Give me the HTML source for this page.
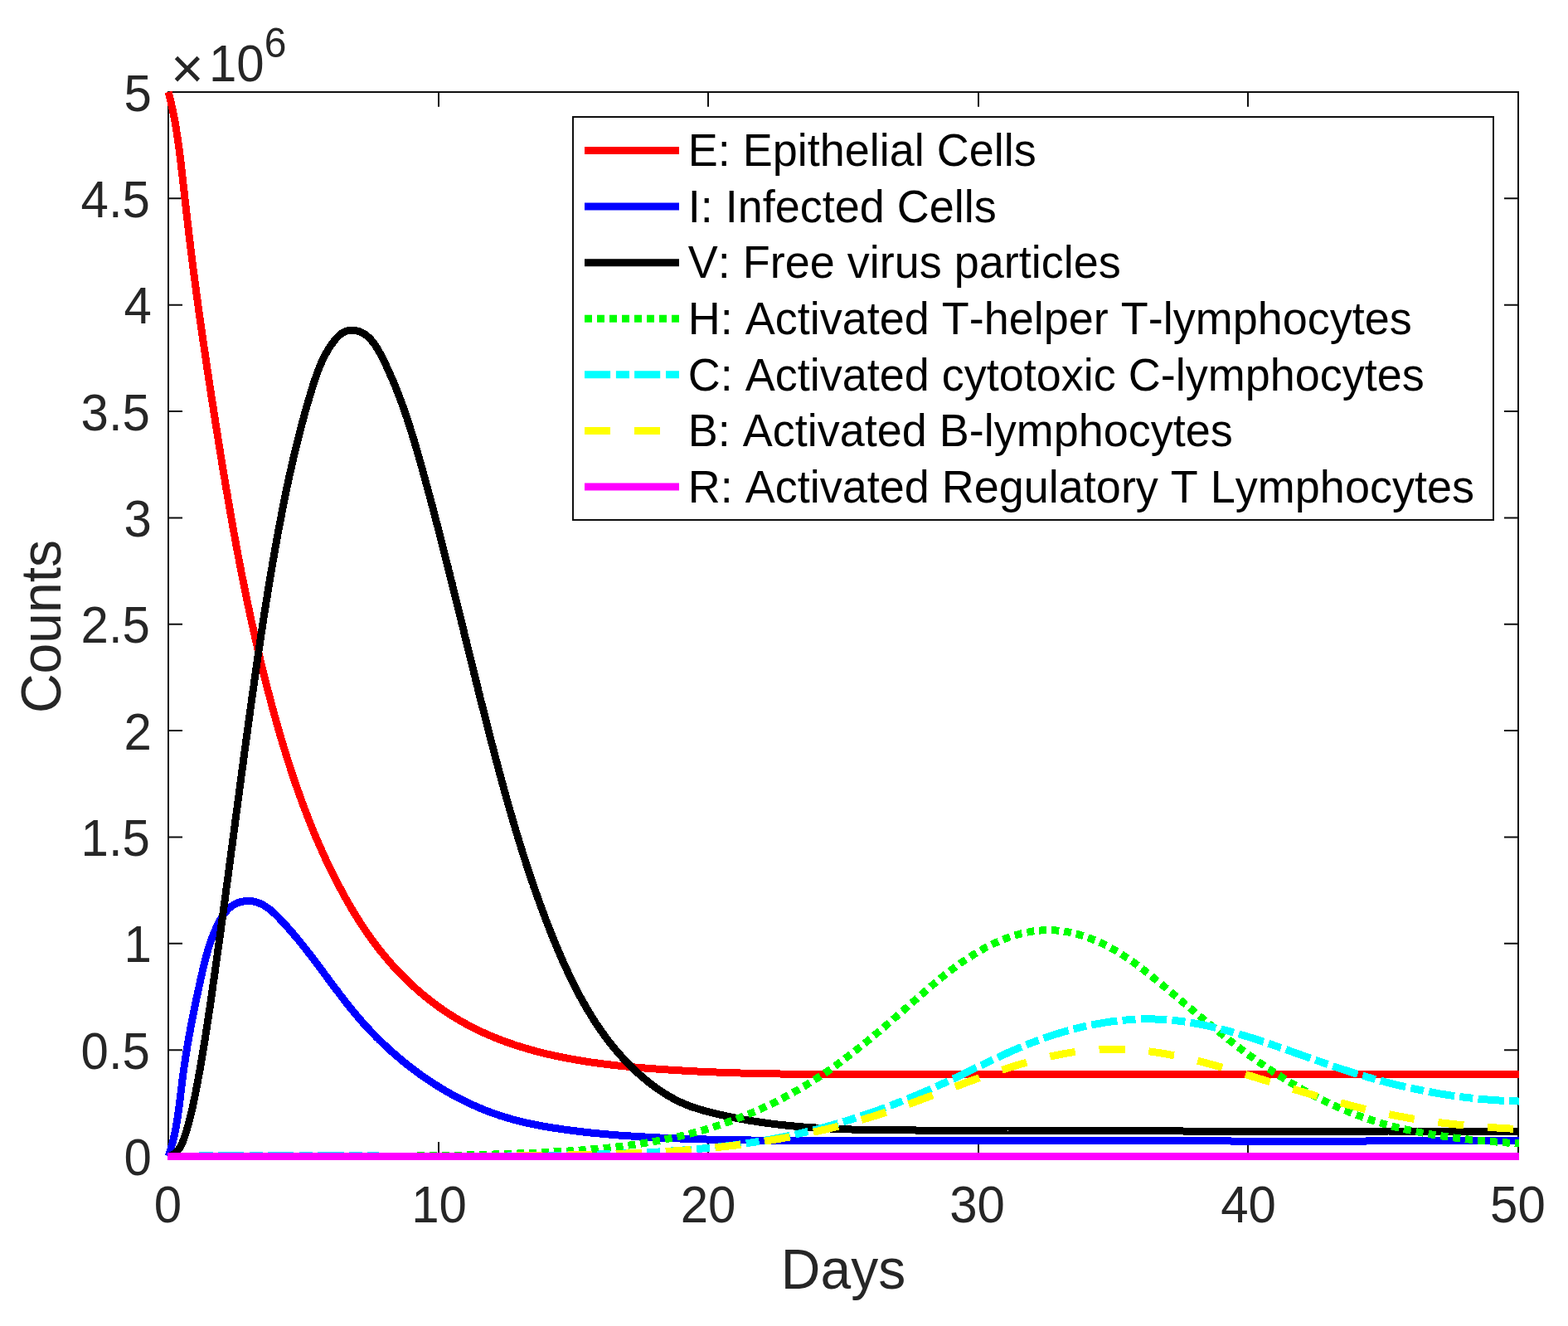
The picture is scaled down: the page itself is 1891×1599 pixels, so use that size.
<!DOCTYPE html>
<html><head><meta charset="utf-8"><title>Counts vs Days</title>
<style>html,body{margin:0;padding:0;background:#fff;width:1891px;height:1599px;overflow:hidden}
svg{display:block} text{font-family:"Liberation Sans",Arial,Helvetica,sans-serif;font-kerning:none;font-feature-settings:"kern" 0}</style></head>
<body><svg width="1891" height="1599" viewBox="0 0 1891 1599">
<rect x="0" y="0" width="1891" height="1599" fill="#fff"/>
<rect x="203.0" y="111.0" width="1628.0" height="1283.5" fill="none" stroke="#0f0f0f" stroke-width="2"/>
<path d="M203,1394.5 V1376.9 M203,111.0 V128.7 M529,1394.5 V1376.9 M529,111.0 V128.7 M854,1394.5 V1376.9 M854,111.0 V128.7 M1180,1394.5 V1376.9 M1180,111.0 V128.7 M1505,1394.5 V1376.9 M1505,111.0 V128.7 M1831,1394.5 V1376.9 M1831,111.0 V128.7 M203.0,1394.5 H220.0 M1831.0,1394.5 H1814.0 M203.0,1266.2 H220.0 M1831.0,1266.2 H1814.0 M203.0,1137.8 H220.0 M1831.0,1137.8 H1814.0 M203.0,1009.5 H220.0 M1831.0,1009.5 H1814.0 M203.0,881.1 H220.0 M1831.0,881.1 H1814.0 M203.0,752.8 H220.0 M1831.0,752.8 H1814.0 M203.0,624.4 H220.0 M1831.0,624.4 H1814.0 M203.0,496.0 H220.0 M1831.0,496.0 H1814.0 M203.0,367.7 H220.0 M1831.0,367.7 H1814.0 M203.0,239.3 H220.0 M1831.0,239.3 H1814.0 M203.0,111.0 H220.0 M1831.0,111.0 H1814.0" stroke="#0f0f0f" stroke-width="2" fill="none"/>
<path d="M203.0,111.0 L203.6,113.0 L204.1,115.0 L204.6,117.0 L205.1,119.0 L205.6,121.0 L206.1,123.0 L206.5,125.0 L207.0,127.1 L207.4,129.1 L207.9,131.1 L208.3,133.1 L208.7,135.1 L209.1,137.2 L209.5,139.2 L209.9,141.2 L210.3,143.3 L210.7,145.3 L211.1,147.3 L211.4,149.4 L211.8,151.4 L212.1,153.4 L212.5,155.5 L212.8,157.5 L213.1,159.6 L213.4,161.6 L213.7,163.7 L214.1,165.7 L214.4,167.8 L214.6,169.8 L214.9,171.9 L215.2,173.9 L215.5,176.0 L215.8,178.1 L216.1,180.1 L216.3,182.2 L216.6,184.2 L216.8,186.3 L217.1,188.3 L217.4,190.4 L217.6,192.5 L217.9,194.5 L218.1,196.6 L218.3,198.7 L218.6,200.7 L218.8,202.8 L219.1,204.9 L219.3,206.9 L219.5,209.0 L219.8,211.1 L220.0,213.1 L220.2,215.2 L220.5,217.2 L220.7,219.3 L220.9,221.4 L221.2,223.4 L221.4,225.5 L221.6,227.6 L221.9,229.6 L222.1,231.7 L222.3,233.8 L222.6,235.8 L222.8,237.9 L223.0,240.0 L223.3,242.0 L223.5,244.1 L223.7,246.2 L224.0,248.2 L224.2,250.3 L224.4,252.4 L224.7,254.4 L224.9,256.5 L225.2,258.6 L225.4,260.6 L225.6,262.7 L225.9,264.8 L226.1,266.8 L226.3,268.9 L226.6,271.0 L226.8,273.0 L227.1,275.1 L227.3,277.2 L227.5,279.2 L227.8,281.3 L228.0,283.4 L228.3,285.4 L228.5,287.5 L228.8,289.6 L229.0,291.6 L229.3,293.7 L229.5,295.7 L229.8,297.8 L230.0,299.9 L230.3,301.9 L230.5,304.0 L230.8,306.1 L231.0,308.1 L231.3,310.2 L231.5,312.3 L231.8,314.3 L232.1,316.4 L232.3,318.4 L232.6,320.5 L232.8,322.6 L233.1,324.6 L233.4,326.7 L233.6,328.7 L233.9,330.8 L234.2,332.9 L234.4,334.9 L234.7,337.0 L235.0,339.0 L235.3,341.1 L235.5,343.2 L235.8,345.2 L236.1,347.3 L236.3,349.3 L236.6,351.4 L236.9,353.5 L237.2,355.5 L237.5,357.6 L237.7,359.6 L238.0,361.7 L238.3,363.8 L238.6,365.8 L238.9,367.9 L239.1,369.9 L239.4,372.0 L239.7,374.0 L240.0,376.1 L240.3,378.2 L240.6,380.2 L240.9,382.3 L241.1,384.3 L241.4,386.4 L241.7,388.4 L242.0,390.5 L242.3,392.6 L242.6,394.6 L242.9,396.7 L243.2,398.7 L243.5,400.8 L243.8,402.8 L244.1,404.9 L244.4,407.0 L244.7,409.0 L245.0,411.1 L245.3,413.1 L245.6,415.2 L245.9,417.2 L246.2,419.3 L246.5,421.3 L246.8,423.4 L247.1,425.4 L247.4,427.5 L247.7,429.6 L248.0,431.6 L248.3,433.7 L248.6,435.7 L248.9,437.8 L249.2,439.8 L249.5,441.9 L249.8,443.9 L250.1,446.0 L250.4,448.0 L250.8,450.1 L251.1,452.2 L251.4,454.2 L251.7,456.3 L252.0,458.3 L252.3,460.4 L252.6,462.4 L252.9,464.5 L253.3,466.5 L253.6,468.6 L253.9,470.6 L254.2,472.7 L254.5,474.7 L254.8,476.8 L255.1,478.9 L255.5,480.9 L255.8,483.0 L256.1,485.0 L256.4,487.1 L256.7,489.1 L257.1,491.2 L257.4,493.2 L257.7,495.3 L258.0,497.3 L258.3,499.4 L258.7,501.4 L259.0,503.5 L259.3,505.5 L259.6,507.6 L259.9,509.6 L260.3,511.7 L260.6,513.8 L260.9,515.8 L261.2,517.9 L261.6,519.9 L261.9,522.0 L262.2,524.0 L262.5,526.1 L262.9,528.1 L263.2,530.2 L263.5,532.2 L263.8,534.3 L264.2,536.3 L264.5,538.4 L264.8,540.4 L265.2,542.5 L265.5,544.5 L265.8,546.6 L266.1,548.6 L266.5,550.7 L266.8,552.7 L267.1,554.8 L267.5,556.9 L267.8,558.9 L268.1,561.0 L268.5,563.0 L268.8,565.1 L269.2,567.1 L269.5,569.2 L269.8,571.2 L270.2,573.3 L270.5,575.3 L270.9,577.4 L271.2,579.4 L271.5,581.5 L271.9,583.5 L272.2,585.6 L272.6,587.6 L272.9,589.7 L273.3,591.7 L273.6,593.8 L274.0,595.8 L274.3,597.9 L274.6,599.9 L275.0,602.0 L275.4,604.0 L275.7,606.1 L276.1,608.1 L276.4,610.1 L276.8,612.2 L277.1,614.2 L277.5,616.3 L277.8,618.3 L278.2,620.4 L278.6,622.4 L278.9,624.5 L279.3,626.5 L279.6,628.6 L280.0,630.6 L280.4,632.7 L280.7,634.7 L281.1,636.8 L281.5,638.8 L281.8,640.8 L282.2,642.9 L282.6,644.9 L283.0,647.0 L283.3,649.0 L283.7,651.1 L284.1,653.1 L284.5,655.2 L284.8,657.2 L285.2,659.2 L285.6,661.3 L286.0,663.3 L286.4,665.4 L286.7,667.4 L287.1,669.5 L287.5,671.5 L287.9,673.5 L288.3,675.6 L288.7,677.6 L289.1,679.7 L289.5,681.7 L289.9,683.7 L290.3,685.8 L290.6,687.8 L291.0,689.9 L291.4,691.9 L291.8,693.9 L292.2,696.0 L292.7,698.0 L293.1,700.1 L293.5,702.1 L293.9,704.1 L294.3,706.2 L294.7,708.2 L295.1,710.2 L295.5,712.3 L295.9,714.3 L296.3,716.3 L296.8,718.4 L297.2,720.4 L297.6,722.5 L298.0,724.5 L298.5,726.5 L298.9,728.6 L299.3,730.6 L299.7,732.6 L300.2,734.7 L300.6,736.7 L301.0,738.7 L301.5,740.7 L301.9,742.8 L302.3,744.8 L302.8,746.8 L303.2,748.9 L303.7,750.9 L304.1,752.9 L304.6,755.0 L305.0,757.0 L305.5,759.0 L305.9,761.0 L306.4,763.1 L306.8,765.1 L307.3,767.1 L307.7,769.2 L308.2,771.2 L308.7,773.2 L309.1,775.2 L309.6,777.3 L310.1,779.3 L310.5,781.3 L311.0,783.3 L311.5,785.3 L311.9,787.4 L312.4,789.4 L312.9,791.4 L313.4,793.4 L313.9,795.5 L314.3,797.5 L314.8,799.5 L315.3,801.5 L315.8,803.5 L316.3,805.6 L316.8,807.6 L317.3,809.6 L317.8,811.6 L318.3,813.6 L318.8,815.6 L319.3,817.7 L319.8,819.7 L320.3,821.7 L320.8,823.7 L321.3,825.7 L321.9,827.7 L322.4,829.7 L322.9,831.8 L323.4,833.8 L323.9,835.8 L324.5,837.8 L325.0,839.8 L325.5,841.8 L326.0,843.8 L326.6,845.8 L327.1,847.8 L327.7,849.9 L328.2,851.9 L328.7,853.9 L329.3,855.9 L329.8,857.9 L330.4,859.9 L330.9,861.9 L331.5,863.9 L332.0,865.9 L332.6,867.9 L333.2,869.9 L333.7,871.9 L334.3,873.9 L334.9,875.9 L335.4,877.9 L336.0,879.9 L336.6,881.9 L337.2,883.9 L337.7,885.9 L338.3,887.9 L338.9,889.9 L339.5,891.9 L340.1,893.9 L340.7,895.9 L341.3,897.9 L341.9,899.9 L342.5,901.9 L343.1,903.8 L343.7,905.8 L344.3,907.8 L344.9,909.8 L345.5,911.8 L346.2,913.8 L346.8,915.8 L347.4,917.7 L348.1,919.7 L348.7,921.7 L349.3,923.7 L350.0,925.7 L350.6,927.6 L351.3,929.6 L351.9,931.6 L352.6,933.6 L353.2,935.5 L353.9,937.5 L354.5,939.5 L355.2,941.5 L355.9,943.4 L356.5,945.4 L357.2,947.3 L357.9,949.3 L358.6,951.3 L359.3,953.2 L360.0,955.2 L360.7,957.1 L361.4,959.1 L362.1,961.1 L362.8,963.0 L363.5,965.0 L364.2,966.9 L364.9,968.9 L365.6,970.8 L366.4,972.7 L367.1,974.7 L367.8,976.6 L368.6,978.6 L369.3,980.5 L370.1,982.4 L370.8,984.4 L371.6,986.3 L372.3,988.2 L373.1,990.2 L373.8,992.1 L374.6,994.0 L375.4,996.0 L376.2,997.9 L377.0,999.8 L377.7,1001.7 L378.5,1003.6 L379.3,1005.5 L380.1,1007.5 L380.9,1009.4 L381.8,1011.3 L382.6,1013.2 L383.4,1015.1 L384.2,1017.0 L385.0,1018.9 L385.9,1020.8 L386.7,1022.7 L387.6,1024.6 L388.4,1026.5 L389.3,1028.4 L390.1,1030.2 L391.0,1032.1 L391.9,1034.0 L392.7,1035.9 L393.6,1037.8 L394.5,1039.6 L395.4,1041.5 L396.3,1043.4 L397.2,1045.2 L398.1,1047.1 L399.0,1049.0 L399.9,1050.8 L400.8,1052.7 L401.7,1054.6 L402.7,1056.4 L403.6,1058.3 L404.5,1060.1 L405.5,1062.0 L406.4,1063.8 L407.4,1065.6 L408.3,1067.5 L409.3,1069.3 L410.3,1071.1 L411.3,1073.0 L412.2,1074.8 L413.2,1076.6 L414.2,1078.5 L415.2,1080.3 L416.2,1082.1 L417.2,1083.9 L418.3,1085.7 L419.3,1087.5 L420.3,1089.3 L421.4,1091.1 L422.4,1092.9 L423.4,1094.7 L424.5,1096.5 L425.6,1098.3 L426.6,1100.0 L427.7,1101.8 L428.8,1103.6 L429.9,1105.4 L431.0,1107.1 L432.1,1108.9 L433.2,1110.6 L434.3,1112.4 L435.5,1114.1 L436.6,1115.9 L437.7,1117.6 L438.9,1119.3 L440.1,1121.1 L441.2,1122.8 L442.4,1124.5 L443.6,1126.2 L444.8,1127.9 L446.0,1129.6 L447.2,1131.3 L448.4,1133.0 L449.6,1134.7 L450.9,1136.3 L452.1,1138.0 L453.3,1139.7 L454.6,1141.3 L455.9,1143.0 L457.2,1144.6 L458.4,1146.3 L459.7,1147.9 L461.0,1149.5 L462.4,1151.1 L463.7,1152.7 L465.0,1154.3 L466.4,1155.9 L467.7,1157.5 L469.1,1159.1 L470.5,1160.7 L471.8,1162.3 L473.2,1163.8 L474.6,1165.4 L476.1,1166.9 L477.5,1168.5 L478.9,1170.0 L480.3,1171.5 L481.8,1173.0 L483.3,1174.6 L484.7,1176.1 L486.2,1177.5 L487.7,1179.0 L489.2,1180.5 L490.7,1182.0 L492.2,1183.4 L493.7,1184.9 L495.3,1186.3 L496.8,1187.7 L498.3,1189.2 L499.9,1190.6 L501.5,1192.0 L503.0,1193.4 L504.6,1194.7 L506.2,1196.1 L507.8,1197.5 L509.4,1198.8 L511.0,1200.2 L512.6,1201.5 L514.2,1202.8 L515.9,1204.1 L517.5,1205.4 L519.2,1206.7 L520.8,1208.0 L522.5,1209.2 L524.1,1210.5 L525.8,1211.7 L527.5,1213.0 L529.2,1214.2 L530.9,1215.4 L532.6,1216.6 L534.3,1217.8 L536.0,1219.0 L537.7,1220.1 L539.5,1221.3 L541.2,1222.4 L542.9,1223.5 L544.7,1224.6 L546.4,1225.7 L548.2,1226.8 L550.0,1227.9 L551.7,1228.9 L553.5,1230.0 L555.3,1231.0 L557.1,1232.0 L558.9,1233.1 L560.7,1234.1 L562.5,1235.0 L564.3,1236.0 L566.1,1237.0 L567.9,1237.9 L569.7,1238.9 L571.6,1239.8 L573.4,1240.7 L575.2,1241.6 L577.1,1242.5 L578.9,1243.4 L580.8,1244.2 L582.6,1245.1 L584.5,1245.9 L586.4,1246.8 L588.2,1247.6 L590.1,1248.4 L592.0,1249.2 L593.9,1250.0 L595.8,1250.8 L597.7,1251.6 L599.6,1252.3 L601.5,1253.1 L603.4,1253.8 L605.3,1254.5 L607.2,1255.3 L609.1,1256.0 L611.1,1256.7 L613.0,1257.4 L614.9,1258.0 L616.9,1258.7 L618.8,1259.4 L620.8,1260.0 L622.7,1260.7 L624.7,1261.3 L626.6,1261.9 L628.6,1262.5 L630.6,1263.1 L632.5,1263.7 L634.5,1264.3 L636.5,1264.9 L638.4,1265.4 L640.4,1266.0 L642.4,1266.6 L644.4,1267.1 L646.4,1267.6 L648.4,1268.2 L650.4,1268.7 L652.4,1269.2 L654.4,1269.7 L656.4,1270.2 L658.4,1270.7 L660.4,1271.1 L662.4,1271.6 L664.5,1272.1 L666.5,1272.5 L668.5,1273.0 L670.5,1273.4 L672.6,1273.8 L674.6,1274.3 L676.6,1274.7 L678.7,1275.1 L680.7,1275.5 L682.8,1275.9 L684.8,1276.3 L686.9,1276.7 L688.9,1277.0 L691.0,1277.4 L693.0,1277.8 L695.1,1278.1 L697.1,1278.5 L699.2,1278.8 L701.2,1279.2 L703.3,1279.5 L705.4,1279.8 L707.4,1280.1 L709.5,1280.5 L711.6,1280.8 L713.6,1281.1 L715.7,1281.4 L717.8,1281.7 L719.9,1281.9 L721.9,1282.2 L724.0,1282.5 L726.1,1282.8 L728.2,1283.0 L730.3,1283.3 L732.4,1283.5 L734.4,1283.8 L736.5,1284.0 L738.6,1284.3 L740.7,1284.5 L742.8,1284.7 L744.9,1285.0 L747.0,1285.2 L749.1,1285.4 L751.2,1285.6 L753.3,1285.8 L755.3,1286.0 L757.4,1286.2 L759.5,1286.4 L761.6,1286.6 L763.7,1286.8 L765.8,1287.0 L767.9,1287.2 L770.0,1287.4 L772.1,1287.6 L774.2,1287.7 L776.3,1287.9 L778.4,1288.1 L780.5,1288.2 L782.6,1288.4 L784.7,1288.6 L786.8,1288.7 L788.9,1288.9 L791.0,1289.0 L793.1,1289.2 L795.2,1289.3 L797.3,1289.5 L799.4,1289.6 L801.5,1289.7 L803.6,1289.9 L805.7,1290.0 L807.8,1290.1 L809.8,1290.3 L811.9,1290.4 L814.0,1290.5 L816.1,1290.6 L818.2,1290.8 L820.3,1290.9 L822.4,1291.0 L824.5,1291.1 L826.6,1291.2 L828.7,1291.3 L830.8,1291.5 L832.8,1291.6 L834.9,1291.7 L837.0,1291.8 L839.1,1291.9 L841.2,1292.0 L843.3,1292.1 L845.4,1292.2 L847.4,1292.3 L849.5,1292.4 L851.6,1292.5 L853.7,1292.6 L855.8,1292.6 L857.9,1292.7 L859.9,1292.8 L862.0,1292.9 L864.1,1293.0 L866.2,1293.1 L868.3,1293.1 L870.4,1293.2 L872.4,1293.3 L874.5,1293.4 L876.6,1293.4 L878.7,1293.5 L880.8,1293.6 L882.8,1293.6 L884.9,1293.7 L887.0,1293.8 L889.1,1293.8 L891.2,1293.9 L893.2,1294.0 L895.3,1294.0 L897.4,1294.1 L899.5,1294.1 L901.5,1294.2 L903.6,1294.2 L905.7,1294.3 L907.8,1294.3 L909.8,1294.4 L911.9,1294.4 L914.0,1294.5 L916.1,1294.5 L918.1,1294.6 L920.2,1294.6 L922.3,1294.7 L924.4,1294.7 L926.4,1294.7 L928.5,1294.8 L930.6,1294.8 L932.7,1294.8 L934.7,1294.9 L936.8,1294.9 L938.9,1294.9 L940.9,1295.0 L943.0,1295.0 L945.1,1295.0 L947.2,1295.1 L949.2,1295.1 L951.3,1295.1 L953.4,1295.1 L955.4,1295.2 L957.5,1295.2 L959.6,1295.2 L961.7,1295.2 L963.7,1295.2 L965.8,1295.3 L967.9,1295.3 L969.9,1295.3 L972.0,1295.3 L974.1,1295.3 L976.1,1295.3 L978.2,1295.4 L980.3,1295.4 L982.4,1295.4 L984.4,1295.4 L986.5,1295.4 L988.6,1295.4 L990.6,1295.4 L992.7,1295.4 L994.8,1295.4 L996.8,1295.5 L998.9,1295.5 L1001.0,1295.5 L1003.0,1295.5 L1005.1,1295.5 L1007.2,1295.5 L1009.2,1295.5 L1011.3,1295.5 L1013.4,1295.5 L1015.5,1295.5 L1017.5,1295.5 L1019.6,1295.5 L1021.7,1295.5 L1023.7,1295.5 L1025.8,1295.5 L1027.9,1295.5 L1029.9,1295.5 L1032.0,1295.5 L1034.1,1295.5 L1036.1,1295.5 L1038.2,1295.5 L1040.3,1295.5 L1042.3,1295.5 L1044.4,1295.5 L1046.5,1295.5 L1048.5,1295.5 L1050.6,1295.5 L1052.7,1295.5 L1054.7,1295.4 L1056.8,1295.4 L1058.9,1295.4 L1061.0,1295.4 L1063.0,1295.4 L1065.1,1295.4 L1067.2,1295.4 L1069.2,1295.4 L1071.3,1295.4 L1073.4,1295.4 L1075.4,1295.4 L1077.5,1295.4 L1079.6,1295.4 L1081.6,1295.4 L1083.7,1295.4 L1085.8,1295.4 L1087.8,1295.3 L1089.9,1295.3 L1092.0,1295.3 L1094.1,1295.3 L1096.1,1295.3 L1098.2,1295.3 L1100.3,1295.3 L1102.3,1295.3 L1104.4,1295.3 L1106.5,1295.3 L1108.6,1295.3 L1110.6,1295.3 L1112.7,1295.3 L1114.8,1295.3 L1116.8,1295.3 L1118.9,1295.3 L1121.0,1295.3 L1123.1,1295.3 L1125.1,1295.2 L1127.2,1295.2 L1129.3,1295.2 L1131.3,1295.2 L1133.4,1295.2 L1135.5,1295.2 L1137.6,1295.2 L1139.6,1295.2 L1141.7,1295.2 L1143.8,1295.2 L1145.9,1295.2 L1147.9,1295.2 L1150.0,1295.2 L1152.1,1295.2 L1154.2,1295.2 L1156.2,1295.2 L1158.3,1295.2 L1160.4,1295.2 L1162.4,1295.2 L1164.5,1295.2 L1166.6,1295.2 L1168.7,1295.2 L1170.7,1295.2 L1172.8,1295.2 L1174.9,1295.2 L1177.0,1295.2 L1179.0,1295.2 L1181.1,1295.2 L1183.2,1295.2 L1185.3,1295.2 L1187.4,1295.2 L1189.4,1295.2 L1191.5,1295.2 L1193.6,1295.1 L1195.7,1295.1 L1197.7,1295.1 L1199.8,1295.1 L1201.9,1295.1 L1204.0,1295.1 L1206.0,1295.1 L1208.1,1295.1 L1210.2,1295.1 L1212.3,1295.1 L1214.3,1295.1 L1216.4,1295.1 L1218.5,1295.1 L1220.6,1295.1 L1222.7,1295.1 L1224.7,1295.1 L1226.8,1295.1 L1228.9,1295.1 L1231.0,1295.1 L1233.0,1295.1 L1235.1,1295.1 L1237.2,1295.1 L1239.3,1295.1 L1241.4,1295.1 L1243.4,1295.1 L1245.5,1295.1 L1247.6,1295.1 L1249.7,1295.1 L1251.8,1295.1 L1253.8,1295.1 L1255.9,1295.1 L1258.0,1295.2 L1260.1,1295.2 L1262.2,1295.2 L1264.2,1295.2 L1266.3,1295.2 L1268.4,1295.2 L1270.5,1295.2 L1272.6,1295.2 L1274.6,1295.2 L1276.7,1295.2 L1278.8,1295.2 L1280.9,1295.2 L1283.0,1295.2 L1285.0,1295.2 L1287.1,1295.2 L1289.2,1295.2 L1291.3,1295.2 L1293.4,1295.2 L1295.4,1295.2 L1297.5,1295.2 L1299.6,1295.2 L1301.7,1295.2 L1303.8,1295.2 L1305.8,1295.2 L1307.9,1295.2 L1310.0,1295.2 L1312.1,1295.2 L1314.2,1295.2 L1316.2,1295.2 L1318.3,1295.2 L1320.4,1295.2 L1322.5,1295.2 L1324.6,1295.2 L1326.7,1295.2 L1328.7,1295.2 L1330.8,1295.2 L1332.9,1295.2 L1335.0,1295.2 L1337.1,1295.2 L1339.1,1295.2 L1341.2,1295.3 L1343.3,1295.3 L1345.4,1295.3 L1347.5,1295.3 L1349.6,1295.3 L1351.6,1295.3 L1353.7,1295.3 L1355.8,1295.3 L1357.9,1295.3 L1360.0,1295.3 L1362.0,1295.3 L1364.1,1295.3 L1366.2,1295.3 L1368.3,1295.3 L1370.4,1295.3 L1372.5,1295.3 L1374.5,1295.3 L1376.6,1295.3 L1378.7,1295.3 L1380.8,1295.3 L1382.9,1295.3 L1385.0,1295.3 L1387.0,1295.3 L1389.1,1295.3 L1391.2,1295.3 L1393.3,1295.3 L1395.4,1295.4 L1397.5,1295.4 L1399.5,1295.4 L1401.6,1295.4 L1403.7,1295.4 L1405.8,1295.4 L1407.9,1295.4 L1409.9,1295.4 L1412.0,1295.4 L1414.1,1295.4 L1416.2,1295.4 L1418.3,1295.4 L1420.4,1295.4 L1422.4,1295.4 L1424.5,1295.4 L1426.6,1295.4 L1428.7,1295.4 L1430.8,1295.4 L1432.9,1295.4 L1434.9,1295.4 L1437.0,1295.4 L1439.1,1295.5 L1441.2,1295.5 L1443.3,1295.5 L1445.4,1295.5 L1447.4,1295.5 L1449.5,1295.5 L1451.6,1295.5 L1453.7,1295.5 L1455.8,1295.5 L1457.9,1295.5 L1459.9,1295.5 L1462.0,1295.5 L1464.1,1295.5 L1466.2,1295.5 L1468.3,1295.5 L1470.4,1295.5 L1472.4,1295.5 L1474.5,1295.5 L1476.6,1295.5 L1478.7,1295.5 L1480.8,1295.5 L1482.9,1295.5 L1484.9,1295.6 L1487.0,1295.6 L1489.1,1295.6 L1491.2,1295.6 L1493.3,1295.6 L1495.4,1295.6 L1497.4,1295.6 L1499.5,1295.6 L1501.6,1295.6 L1503.7,1295.6 L1505.8,1295.6 L1507.9,1295.6 L1509.9,1295.6 L1512.0,1295.6 L1514.1,1295.6 L1516.2,1295.6 L1518.3,1295.6 L1520.4,1295.6 L1522.4,1295.6 L1524.5,1295.6 L1526.6,1295.6 L1528.7,1295.7 L1530.8,1295.7 L1532.9,1295.7 L1534.9,1295.7 L1537.0,1295.7 L1539.1,1295.7 L1541.2,1295.7 L1543.3,1295.7 L1545.4,1295.7 L1547.4,1295.7 L1549.5,1295.7 L1551.6,1295.7 L1553.7,1295.7 L1555.8,1295.7 L1557.8,1295.7 L1559.9,1295.7 L1562.0,1295.7 L1564.1,1295.7 L1566.2,1295.7 L1568.3,1295.7 L1570.3,1295.7 L1572.4,1295.7 L1574.5,1295.7 L1576.6,1295.7 L1578.7,1295.8 L1580.7,1295.8 L1582.8,1295.8 L1584.9,1295.8 L1587.0,1295.8 L1589.1,1295.8 L1591.2,1295.8 L1593.2,1295.8 L1595.3,1295.8 L1597.4,1295.8 L1599.5,1295.8 L1601.6,1295.8 L1603.6,1295.8 L1605.7,1295.8 L1607.8,1295.8 L1609.9,1295.8 L1612.0,1295.8 L1614.0,1295.8 L1616.1,1295.8 L1618.2,1295.8 L1620.3,1295.8 L1622.4,1295.8 L1624.4,1295.8 L1626.5,1295.8 L1628.6,1295.8 L1630.7,1295.8 L1632.8,1295.8 L1634.9,1295.8 L1636.9,1295.8 L1639.0,1295.8 L1641.1,1295.8 L1643.2,1295.8 L1645.3,1295.8 L1647.3,1295.8 L1649.4,1295.8 L1651.5,1295.9 L1653.6,1295.9 L1655.6,1295.9 L1657.7,1295.9 L1659.8,1295.9 L1661.9,1295.9 L1664.0,1295.9 L1666.0,1295.9 L1668.1,1295.9 L1670.2,1295.9 L1672.3,1295.9 L1674.4,1295.9 L1676.4,1295.9 L1678.5,1295.9 L1680.6,1295.9 L1682.7,1295.9 L1684.7,1295.9 L1686.8,1295.9 L1688.9,1295.9 L1691.0,1295.9 L1693.1,1295.9 L1695.1,1295.9 L1697.2,1295.9 L1699.3,1295.9 L1701.4,1295.9 L1703.4,1295.9 L1705.5,1295.9 L1707.6,1295.9 L1709.7,1295.9 L1711.8,1295.9 L1713.8,1295.9 L1715.9,1295.9 L1718.0,1295.9 L1720.1,1295.9 L1722.1,1295.9 L1724.2,1295.9 L1726.3,1295.9 L1728.4,1295.9 L1730.4,1295.9 L1732.5,1295.9 L1734.6,1295.9 L1736.7,1295.9 L1738.7,1295.9 L1740.8,1295.9 L1742.9,1295.9 L1745.0,1295.9 L1747.0,1295.9 L1749.1,1295.9 L1751.2,1295.9 L1753.3,1295.9 L1755.3,1295.9 L1757.4,1295.9 L1759.5,1295.8 L1761.6,1295.8 L1763.6,1295.8 L1765.7,1295.8 L1767.8,1295.8 L1769.9,1295.8 L1771.9,1295.8 L1774.0,1295.8 L1776.1,1295.8 L1778.2,1295.8 L1780.2,1295.8 L1782.3,1295.8 L1784.4,1295.8 L1786.4,1295.8 L1788.5,1295.8 L1790.6,1295.8 L1792.7,1295.8 L1794.7,1295.8 L1796.8,1295.8 L1798.9,1295.8 L1800.9,1295.8 L1803.0,1295.8 L1805.1,1295.8 L1807.2,1295.8 L1809.2,1295.8 L1811.3,1295.8 L1813.4,1295.8 L1815.4,1295.7 L1817.5,1295.7 L1819.6,1295.7 L1821.7,1295.7 L1823.7,1295.7 L1825.8,1295.7 L1827.9,1295.7 L1829.9,1295.7 L1832.0,1295.7" fill="none" stroke="#ff0000" stroke-width="9" stroke-linejoin="round" shape-rendering="crispEdges" />
<path d="M203.0,1394.5 L203.6,1393.0 L204.1,1391.4 L204.6,1389.8 L205.1,1388.3 L205.6,1386.7 L206.1,1385.1 L206.5,1383.6 L207.0,1382.0 L207.4,1380.4 L207.9,1378.8 L208.3,1377.2 L208.7,1375.6 L209.1,1374.1 L209.5,1372.5 L209.8,1370.9 L210.2,1369.3 L210.5,1367.7 L210.9,1366.1 L211.2,1364.5 L211.5,1362.9 L211.8,1361.3 L212.1,1359.6 L212.4,1358.0 L212.7,1356.4 L213.0,1354.8 L213.3,1353.2 L213.5,1351.6 L213.8,1349.9 L214.1,1348.3 L214.3,1346.7 L214.6,1345.1 L214.8,1343.4 L215.0,1341.8 L215.3,1340.2 L215.5,1338.6 L215.7,1336.9 L215.9,1335.3 L216.1,1333.7 L216.3,1332.0 L216.5,1330.4 L216.7,1328.8 L216.9,1327.1 L217.1,1325.5 L217.3,1323.8 L217.5,1322.2 L217.7,1320.6 L217.9,1318.9 L218.1,1317.3 L218.3,1315.6 L218.5,1314.0 L218.7,1312.4 L218.9,1310.7 L219.1,1309.1 L219.3,1307.4 L219.5,1305.8 L219.7,1304.2 L219.9,1302.5 L220.1,1300.9 L220.3,1299.2 L220.5,1297.6 L220.7,1296.0 L221.0,1294.3 L221.2,1292.7 L221.4,1291.0 L221.6,1289.4 L221.9,1287.8 L222.1,1286.1 L222.3,1284.5 L222.6,1282.9 L222.8,1281.2 L223.1,1279.6 L223.3,1278.0 L223.6,1276.3 L223.8,1274.7 L224.1,1273.1 L224.3,1271.4 L224.6,1269.8 L224.9,1268.2 L225.1,1266.5 L225.4,1264.9 L225.7,1263.3 L225.9,1261.7 L226.2,1260.0 L226.5,1258.4 L226.8,1256.8 L227.1,1255.1 L227.3,1253.5 L227.6,1251.9 L227.9,1250.3 L228.2,1248.6 L228.5,1247.0 L228.8,1245.4 L229.1,1243.8 L229.4,1242.2 L229.7,1240.5 L230.0,1238.9 L230.3,1237.3 L230.6,1235.7 L230.9,1234.1 L231.3,1232.4 L231.6,1230.8 L231.9,1229.2 L232.2,1227.6 L232.5,1226.0 L232.8,1224.4 L233.2,1222.7 L233.5,1221.1 L233.8,1219.5 L234.1,1217.9 L234.5,1216.3 L234.8,1214.7 L235.1,1213.1 L235.5,1211.5 L235.8,1209.8 L236.1,1208.2 L236.5,1206.6 L236.8,1205.0 L237.1,1203.4 L237.5,1201.8 L237.8,1200.2 L238.2,1198.6 L238.5,1197.0 L238.8,1195.4 L239.2,1193.8 L239.5,1192.2 L239.9,1190.6 L240.2,1189.0 L240.6,1187.4 L240.9,1185.8 L241.3,1184.2 L241.6,1182.6 L242.0,1181.0 L242.3,1179.4 L242.7,1177.8 L243.0,1176.2 L243.4,1174.6 L243.8,1173.1 L244.1,1171.5 L244.5,1169.9 L244.8,1168.3 L245.2,1166.7 L245.6,1165.1 L246.0,1163.5 L246.4,1161.9 L246.8,1160.4 L247.2,1158.8 L247.6,1157.2 L248.0,1155.6 L248.4,1154.0 L248.8,1152.4 L249.3,1150.9 L249.7,1149.3 L250.2,1147.7 L250.6,1146.1 L251.1,1144.5 L251.6,1143.0 L252.1,1141.4 L252.6,1139.8 L253.1,1138.2 L253.7,1136.6 L254.2,1135.1 L254.8,1133.5 L255.4,1131.9 L256.0,1130.3 L256.6,1128.8 L257.2,1127.2 L257.8,1125.6 L258.5,1124.1 L259.2,1122.5 L259.8,1120.9 L260.5,1119.3 L261.3,1117.8 L262.0,1116.2 L262.8,1114.6 L263.6,1113.1 L264.4,1111.6 L265.2,1110.0 L266.1,1108.5 L267.0,1107.1 L267.9,1105.6 L268.8,1104.2 L269.8,1102.8 L270.8,1101.5 L271.8,1100.2 L272.8,1098.9 L273.9,1097.7 L275.0,1096.5 L276.2,1095.4 L277.4,1094.4 L278.6,1093.4 L279.9,1092.5 L281.2,1091.6 L282.5,1090.8 L283.9,1090.1 L285.3,1089.4 L286.8,1088.8 L288.2,1088.3 L289.7,1087.8 L291.2,1087.4 L292.7,1087.1 L294.3,1086.9 L295.8,1086.7 L297.4,1086.6 L298.9,1086.5 L300.5,1086.5 L302.1,1086.6 L303.6,1086.8 L305.2,1087.0 L306.7,1087.3 L308.2,1087.6 L309.7,1088.1 L311.2,1088.5 L312.6,1089.1 L314.1,1089.7 L315.5,1090.4 L316.9,1091.1 L318.3,1091.9 L319.7,1092.7 L321.0,1093.6 L322.3,1094.5 L323.7,1095.4 L325.0,1096.4 L326.3,1097.5 L327.5,1098.5 L328.8,1099.6 L330.1,1100.8 L331.3,1101.9 L332.5,1103.1 L333.7,1104.3 L334.9,1105.5 L336.1,1106.7 L337.3,1107.9 L338.5,1109.2 L339.7,1110.4 L340.9,1111.7 L342.0,1112.9 L343.2,1114.2 L344.3,1115.4 L345.5,1116.7 L346.6,1118.0 L347.7,1119.2 L348.8,1120.5 L349.9,1121.8 L351.0,1123.0 L352.2,1124.3 L353.2,1125.6 L354.3,1126.9 L355.4,1128.2 L356.5,1129.4 L357.6,1130.7 L358.6,1132.0 L359.7,1133.3 L360.8,1134.6 L361.8,1135.9 L362.9,1137.2 L363.9,1138.5 L365.0,1139.8 L366.0,1141.1 L367.0,1142.4 L368.1,1143.7 L369.1,1145.0 L370.1,1146.3 L371.1,1147.6 L372.1,1148.9 L373.1,1150.2 L374.2,1151.5 L375.2,1152.9 L376.2,1154.2 L377.2,1155.5 L378.2,1156.8 L379.2,1158.1 L380.1,1159.4 L381.1,1160.7 L382.1,1162.0 L383.1,1163.4 L384.1,1164.7 L385.1,1166.0 L386.1,1167.3 L387.0,1168.6 L388.0,1169.9 L389.0,1171.3 L390.0,1172.6 L391.0,1173.9 L391.9,1175.2 L392.9,1176.5 L393.9,1177.8 L394.9,1179.1 L395.8,1180.5 L396.8,1181.8 L397.8,1183.1 L398.8,1184.4 L399.7,1185.7 L400.7,1187.0 L401.7,1188.3 L402.7,1189.6 L403.6,1190.9 L404.6,1192.2 L405.6,1193.5 L406.6,1194.8 L407.6,1196.1 L408.6,1197.4 L409.5,1198.7 L410.5,1200.0 L411.5,1201.3 L412.5,1202.6 L413.5,1203.9 L414.5,1205.2 L415.5,1206.5 L416.5,1207.8 L417.5,1209.1 L418.5,1210.3 L419.5,1211.6 L420.6,1212.9 L421.6,1214.2 L422.6,1215.4 L423.6,1216.7 L424.7,1218.0 L425.7,1219.2 L426.7,1220.5 L427.8,1221.7 L428.8,1223.0 L429.9,1224.2 L430.9,1225.5 L432.0,1226.7 L433.0,1228.0 L434.1,1229.2 L435.2,1230.4 L436.3,1231.7 L437.3,1232.9 L438.4,1234.1 L439.5,1235.3 L440.6,1236.6 L441.7,1237.8 L442.8,1239.0 L444.0,1240.2 L445.1,1241.4 L446.2,1242.6 L447.3,1243.8 L448.5,1245.0 L449.6,1246.2 L450.8,1247.3 L451.9,1248.5 L453.1,1249.7 L454.2,1250.9 L455.4,1252.0 L456.6,1253.2 L457.7,1254.4 L458.9,1255.5 L460.1,1256.7 L461.3,1257.8 L462.5,1258.9 L463.7,1260.1 L464.9,1261.2 L466.1,1262.3 L467.3,1263.5 L468.5,1264.6 L469.7,1265.7 L471.0,1266.8 L472.2,1267.9 L473.4,1269.0 L474.7,1270.1 L475.9,1271.2 L477.2,1272.3 L478.4,1273.4 L479.7,1274.5 L481.0,1275.5 L482.2,1276.6 L483.5,1277.7 L484.8,1278.7 L486.0,1279.8 L487.3,1280.8 L488.6,1281.9 L489.9,1282.9 L491.2,1283.9 L492.5,1285.0 L493.8,1286.0 L495.1,1287.0 L496.4,1288.0 L497.8,1289.0 L499.1,1290.0 L500.4,1291.0 L501.7,1292.0 L503.1,1293.0 L504.4,1294.0 L505.8,1294.9 L507.1,1295.9 L508.5,1296.9 L509.8,1297.8 L511.2,1298.8 L512.5,1299.7 L513.9,1300.6 L515.3,1301.6 L516.6,1302.5 L518.0,1303.4 L519.4,1304.3 L520.8,1305.3 L522.2,1306.2 L523.6,1307.1 L525.0,1307.9 L526.4,1308.8 L527.8,1309.7 L529.2,1310.6 L530.6,1311.4 L532.0,1312.3 L533.4,1313.2 L534.8,1314.0 L536.3,1314.8 L537.7,1315.7 L539.1,1316.5 L540.6,1317.3 L542.0,1318.1 L543.4,1319.0 L544.9,1319.8 L546.3,1320.6 L547.8,1321.3 L549.2,1322.1 L550.7,1322.9 L552.2,1323.7 L553.6,1324.4 L555.1,1325.2 L556.6,1325.9 L558.0,1326.7 L559.5,1327.4 L561.0,1328.1 L562.5,1328.8 L564.0,1329.6 L565.5,1330.3 L567.0,1331.0 L568.5,1331.7 L570.0,1332.3 L571.5,1333.0 L573.0,1333.7 L574.5,1334.3 L576.0,1335.0 L577.5,1335.6 L579.0,1336.3 L580.5,1336.9 L582.0,1337.5 L583.6,1338.2 L585.1,1338.8 L586.6,1339.4 L588.2,1340.0 L589.7,1340.6 L591.2,1341.1 L592.8,1341.7 L594.3,1342.3 L595.9,1342.8 L597.4,1343.4 L599.0,1343.9 L600.5,1344.4 L602.1,1345.0 L603.6,1345.5 L605.2,1346.0 L606.8,1346.5 L608.3,1347.0 L609.9,1347.4 L611.5,1347.9 L613.1,1348.4 L614.6,1348.8 L616.2,1349.3 L617.8,1349.7 L619.4,1350.2 L621.0,1350.6 L622.5,1351.0 L624.1,1351.4 L625.7,1351.8 L627.3,1352.2 L628.9,1352.6 L630.5,1353.0 L632.1,1353.4 L633.7,1353.7 L635.3,1354.1 L636.9,1354.5 L638.5,1354.8 L640.1,1355.2 L641.7,1355.5 L643.3,1355.8 L645.0,1356.2 L646.6,1356.5 L648.2,1356.8 L649.8,1357.1 L651.4,1357.4 L653.0,1357.7 L654.7,1358.0 L656.3,1358.3 L657.9,1358.6 L659.5,1358.9 L661.1,1359.1 L662.8,1359.4 L664.4,1359.7 L666.0,1359.9 L667.6,1360.2 L669.3,1360.4 L670.9,1360.7 L672.5,1360.9 L674.2,1361.2 L675.8,1361.4 L677.4,1361.6 L679.1,1361.9 L680.7,1362.1 L682.3,1362.3 L684.0,1362.6 L685.6,1362.8 L687.2,1363.0 L688.9,1363.2 L690.5,1363.4 L692.1,1363.6 L693.8,1363.8 L695.4,1364.0 L697.0,1364.2 L698.7,1364.4 L700.3,1364.6 L701.9,1364.8 L703.6,1365.0 L705.2,1365.2 L706.9,1365.4 L708.5,1365.5 L710.1,1365.7 L711.8,1365.9 L713.4,1366.1 L715.0,1366.2 L716.7,1366.4 L718.3,1366.6 L720.0,1366.7 L721.6,1366.9 L723.2,1367.0 L724.9,1367.2 L726.5,1367.3 L728.2,1367.5 L729.8,1367.6 L731.5,1367.8 L733.1,1367.9 L734.7,1368.1 L736.4,1368.2 L738.0,1368.3 L739.7,1368.5 L741.3,1368.6 L743.0,1368.7 L744.6,1368.9 L746.2,1369.0 L747.9,1369.1 L749.5,1369.2 L751.2,1369.4 L752.8,1369.5 L754.5,1369.6 L756.1,1369.7 L757.8,1369.8 L759.4,1369.9 L761.1,1370.0 L762.7,1370.1 L764.3,1370.2 L766.0,1370.4 L767.6,1370.5 L769.3,1370.6 L770.9,1370.7 L772.6,1370.8 L774.2,1370.8 L775.9,1370.9 L777.5,1371.0 L779.2,1371.1 L780.8,1371.2 L782.5,1371.3 L784.1,1371.4 L785.7,1371.5 L787.4,1371.6 L789.0,1371.6 L790.7,1371.7 L792.3,1371.8 L794.0,1371.9 L795.6,1372.0 L797.3,1372.0 L798.9,1372.1 L800.6,1372.2 L802.2,1372.3 L803.9,1372.3 L805.5,1372.4 L807.2,1372.5 L808.8,1372.5 L810.4,1372.6 L812.1,1372.7 L813.7,1372.7 L815.4,1372.8 L817.0,1372.9 L818.7,1372.9 L820.3,1373.0 L822.0,1373.1 L823.6,1373.1 L825.3,1373.2 L826.9,1373.2 L828.6,1373.3 L830.2,1373.3 L831.9,1373.4 L833.5,1373.4 L835.2,1373.5 L836.8,1373.5 L838.4,1373.6 L840.1,1373.6 L841.7,1373.7 L843.4,1373.7 L845.0,1373.8 L846.7,1373.8 L848.3,1373.9 L850.0,1373.9 L851.6,1374.0 L853.3,1374.0 L854.9,1374.1 L856.6,1374.1 L858.2,1374.1 L859.9,1374.2 L861.5,1374.2 L863.2,1374.2 L864.8,1374.3 L866.5,1374.3 L868.1,1374.4 L869.7,1374.4 L871.4,1374.4 L873.0,1374.5 L874.7,1374.5 L876.3,1374.5 L878.0,1374.5 L879.6,1374.6 L881.3,1374.6 L882.9,1374.6 L884.6,1374.7 L886.2,1374.7 L887.9,1374.7 L889.5,1374.7 L891.2,1374.8 L892.8,1374.8 L894.5,1374.8 L896.1,1374.8 L897.7,1374.9 L899.4,1374.9 L901.0,1374.9 L902.7,1374.9 L904.3,1374.9 L906.0,1375.0 L907.6,1375.0 L909.3,1375.0 L910.9,1375.0 L912.6,1375.0 L914.2,1375.1 L915.9,1375.1 L917.5,1375.1 L919.2,1375.1 L920.8,1375.1 L922.5,1375.1 L924.1,1375.1 L925.8,1375.2 L927.4,1375.2 L929.0,1375.2 L930.7,1375.2 L932.3,1375.2 L934.0,1375.2 L935.6,1375.2 L937.3,1375.2 L938.9,1375.3 L940.6,1375.3 L942.2,1375.3 L943.9,1375.3 L945.5,1375.3 L947.2,1375.3 L948.8,1375.3 L950.5,1375.3 L952.1,1375.3 L953.8,1375.3 L955.4,1375.3 L957.1,1375.4 L958.7,1375.4 L960.3,1375.4 L962.0,1375.4 L963.6,1375.4 L965.3,1375.4 L966.9,1375.4 L968.6,1375.4 L970.2,1375.4 L971.9,1375.4 L973.5,1375.4 L975.2,1375.4 L976.8,1375.4 L978.5,1375.4 L980.1,1375.4 L981.8,1375.4 L983.4,1375.4 L985.1,1375.4 L986.7,1375.4 L988.4,1375.4 L990.0,1375.4 L991.7,1375.5 L993.3,1375.5 L994.9,1375.5 L996.6,1375.5 L998.2,1375.5 L999.9,1375.5 L1001.5,1375.5 L1003.2,1375.5 L1004.8,1375.5 L1006.5,1375.5 L1008.1,1375.5 L1009.8,1375.5 L1011.4,1375.5 L1013.1,1375.5 L1014.7,1375.5 L1016.4,1375.5 L1018.0,1375.5 L1019.7,1375.5 L1021.3,1375.5 L1023.0,1375.5 L1024.6,1375.5 L1026.2,1375.5 L1027.9,1375.5 L1029.5,1375.5 L1031.2,1375.5 L1032.8,1375.5 L1034.5,1375.5 L1036.1,1375.5 L1037.8,1375.5 L1039.4,1375.5 L1041.1,1375.5 L1042.7,1375.6 L1044.4,1375.6 L1046.0,1375.6 L1047.7,1375.6 L1049.3,1375.6 L1051.0,1375.6 L1052.6,1375.6 L1054.3,1375.6 L1055.9,1375.6 L1057.6,1375.6 L1059.2,1375.6 L1060.8,1375.6 L1062.5,1375.6 L1064.1,1375.6 L1065.8,1375.6 L1067.4,1375.6 L1069.1,1375.6 L1070.7,1375.6 L1072.4,1375.6 L1074.0,1375.6 L1075.7,1375.6 L1077.3,1375.6 L1079.0,1375.6 L1080.6,1375.6 L1082.3,1375.6 L1083.9,1375.6 L1085.6,1375.6 L1087.2,1375.6 L1088.9,1375.6 L1090.5,1375.6 L1092.2,1375.6 L1093.8,1375.6 L1095.5,1375.6 L1097.1,1375.6 L1098.7,1375.6 L1100.4,1375.6 L1102.0,1375.7 L1103.7,1375.7 L1105.3,1375.7 L1107.0,1375.7 L1108.6,1375.7 L1110.3,1375.7 L1111.9,1375.7 L1113.6,1375.7 L1115.2,1375.7 L1116.9,1375.7 L1118.5,1375.7 L1120.2,1375.7 L1121.8,1375.7 L1123.5,1375.7 L1125.1,1375.7 L1126.8,1375.7 L1128.4,1375.7 L1130.1,1375.7 L1131.7,1375.7 L1133.3,1375.7 L1135.0,1375.7 L1136.6,1375.7 L1138.3,1375.7 L1139.9,1375.7 L1141.6,1375.7 L1143.2,1375.7 L1144.9,1375.7 L1146.5,1375.7 L1148.2,1375.7 L1149.8,1375.7 L1151.5,1375.7 L1153.1,1375.7 L1154.8,1375.7 L1156.4,1375.7 L1158.1,1375.7 L1159.7,1375.7 L1161.4,1375.7 L1163.0,1375.7 L1164.7,1375.7 L1166.3,1375.7 L1168.0,1375.7 L1169.6,1375.7 L1171.2,1375.7 L1172.9,1375.7 L1174.5,1375.7 L1176.2,1375.8 L1177.8,1375.8 L1179.5,1375.8 L1181.1,1375.8 L1182.8,1375.8 L1184.4,1375.8 L1186.1,1375.8 L1187.7,1375.8 L1189.4,1375.8 L1191.0,1375.8 L1192.7,1375.8 L1194.3,1375.8 L1196.0,1375.8 L1197.6,1375.8 L1199.3,1375.8 L1200.9,1375.8 L1202.6,1375.8 L1204.2,1375.8 L1205.8,1375.8 L1207.5,1375.8 L1209.1,1375.8 L1210.8,1375.8 L1212.4,1375.8 L1214.1,1375.8 L1215.7,1375.8 L1217.4,1375.8 L1219.0,1375.8 L1220.7,1375.8 L1222.3,1375.8 L1224.0,1375.8 L1225.6,1375.8 L1227.3,1375.8 L1228.9,1375.8 L1230.6,1375.8 L1232.2,1375.8 L1233.9,1375.8 L1235.5,1375.8 L1237.2,1375.8 L1238.8,1375.8 L1240.5,1375.8 L1242.1,1375.8 L1243.7,1375.8 L1245.4,1375.8 L1247.0,1375.8 L1248.7,1375.8 L1250.3,1375.8 L1252.0,1375.8 L1253.6,1375.8 L1255.3,1375.8 L1256.9,1375.8 L1258.6,1375.8 L1260.2,1375.8 L1261.9,1375.8 L1263.5,1375.8 L1265.2,1375.8 L1266.8,1375.8 L1268.5,1375.8 L1270.1,1375.8 L1271.8,1375.8 L1273.4,1375.8 L1275.1,1375.9 L1276.7,1375.9 L1278.4,1375.9 L1280.0,1375.9 L1281.6,1375.9 L1283.3,1375.9 L1284.9,1375.9 L1286.6,1375.9 L1288.2,1375.9 L1289.9,1375.9 L1291.5,1375.9 L1293.2,1375.9 L1294.8,1375.9 L1296.5,1375.9 L1298.1,1375.9 L1299.8,1375.9 L1301.4,1375.9 L1303.1,1375.9 L1304.7,1375.9 L1306.4,1375.9 L1308.0,1375.9 L1309.7,1375.9 L1311.3,1375.9 L1313.0,1375.9 L1314.6,1375.9 L1316.3,1375.9 L1317.9,1375.9 L1319.5,1375.9 L1321.2,1375.9 L1322.8,1375.9 L1324.5,1375.9 L1326.1,1375.9 L1327.8,1375.9 L1329.4,1375.9 L1331.1,1375.9 L1332.7,1375.9 L1334.4,1375.9 L1336.0,1375.9 L1337.7,1375.9 L1339.3,1375.9 L1341.0,1375.9 L1342.6,1375.9 L1344.3,1375.9 L1345.9,1375.9 L1347.6,1375.9 L1349.2,1375.9 L1350.9,1375.9 L1352.5,1375.9 L1354.2,1375.9 L1355.8,1375.9 L1357.5,1375.9 L1359.1,1375.9 L1360.7,1375.9 L1362.4,1375.9 L1364.0,1375.9 L1365.7,1375.9 L1367.3,1375.9 L1369.0,1375.9 L1370.6,1375.9 L1372.3,1375.9 L1373.9,1375.9 L1375.6,1375.9 L1377.2,1375.9 L1378.9,1375.9 L1380.5,1375.9 L1382.2,1375.9 L1383.8,1375.9 L1385.5,1375.9 L1387.1,1375.9 L1388.8,1375.9 L1390.4,1375.9 L1392.1,1375.9 L1393.7,1375.9 L1395.4,1375.9 L1397.0,1375.9 L1398.6,1375.9 L1400.3,1375.9 L1401.9,1375.9 L1403.6,1375.9 L1405.2,1375.9 L1406.9,1375.9 L1408.5,1375.9 L1410.2,1375.9 L1411.8,1375.9 L1413.5,1375.9 L1415.1,1375.9 L1416.8,1375.9 L1418.4,1375.9 L1420.1,1375.9 L1421.7,1375.9 L1423.4,1375.9 L1425.0,1375.9 L1426.7,1375.9 L1428.3,1375.9 L1430.0,1375.9 L1431.6,1375.9 L1433.3,1375.9 L1434.9,1375.9 L1436.5,1375.9 L1438.2,1375.9 L1439.8,1375.9 L1441.5,1375.9 L1443.1,1375.9 L1444.8,1375.9 L1446.4,1375.9 L1448.1,1375.9 L1449.7,1375.9 L1451.4,1375.9 L1453.0,1375.9 L1454.7,1375.9 L1456.3,1375.9 L1458.0,1375.9 L1459.6,1375.9 L1461.3,1375.9 L1462.9,1375.9 L1464.6,1375.9 L1466.2,1375.9 L1467.9,1375.9 L1469.5,1375.9 L1471.2,1375.9 L1472.8,1375.9 L1474.4,1375.9 L1476.1,1375.9 L1477.7,1375.9 L1479.4,1375.9 L1481.0,1375.9 L1482.7,1375.9 L1484.3,1376.0 L1486.0,1376.0 L1487.6,1376.0 L1489.3,1376.0 L1490.9,1376.0 L1492.6,1376.0 L1494.2,1376.0 L1495.9,1376.0 L1497.5,1376.0 L1499.2,1376.0 L1500.8,1376.0 L1502.5,1376.0 L1504.1,1376.0 L1505.8,1376.0 L1507.4,1376.0 L1509.1,1376.0 L1510.7,1376.0 L1512.3,1376.0 L1514.0,1376.0 L1515.6,1376.0 L1517.3,1376.0 L1518.9,1376.0 L1520.6,1376.0 L1522.2,1376.0 L1523.9,1376.0 L1525.5,1376.0 L1527.2,1376.0 L1528.8,1376.0 L1530.5,1376.0 L1532.1,1376.0 L1533.8,1376.0 L1535.4,1376.0 L1537.1,1376.0 L1538.7,1376.0 L1540.4,1376.0 L1542.0,1376.0 L1543.7,1376.0 L1545.3,1376.0 L1547.0,1376.0 L1548.6,1376.0 L1550.2,1376.0 L1551.9,1376.0 L1553.5,1376.0 L1555.2,1376.0 L1556.8,1376.0 L1558.5,1376.0 L1560.1,1376.0 L1561.8,1376.0 L1563.4,1376.0 L1565.1,1376.0 L1566.7,1376.0 L1568.4,1376.0 L1570.0,1376.0 L1571.7,1376.0 L1573.3,1376.0 L1575.0,1376.0 L1576.6,1376.0 L1578.3,1376.0 L1579.9,1376.0 L1581.6,1376.0 L1583.2,1376.0 L1584.9,1376.0 L1586.5,1376.0 L1588.1,1376.0 L1589.8,1376.0 L1591.4,1376.0 L1593.1,1376.0 L1594.7,1376.0 L1596.4,1376.0 L1598.0,1376.0 L1599.7,1376.0 L1601.3,1376.0 L1603.0,1376.0 L1604.6,1376.0 L1606.3,1376.0 L1607.9,1376.0 L1609.6,1376.0 L1611.2,1376.0 L1612.9,1376.0 L1614.5,1376.0 L1616.2,1376.0 L1617.8,1376.0 L1619.5,1376.0 L1621.1,1376.0 L1622.8,1376.0 L1624.4,1376.0 L1626.0,1376.0 L1627.7,1376.0 L1629.3,1376.0 L1631.0,1376.0 L1632.6,1376.0 L1634.3,1376.0 L1635.9,1376.0 L1637.6,1376.0 L1639.2,1376.0 L1640.9,1376.0 L1642.5,1376.0 L1644.2,1376.0 L1645.8,1376.0 L1647.5,1376.0 L1649.1,1375.9 L1650.8,1375.9 L1652.4,1375.9 L1654.1,1375.9 L1655.7,1375.9 L1657.4,1375.9 L1659.0,1375.9 L1660.7,1375.9 L1662.3,1375.9 L1663.9,1375.9 L1665.6,1375.9 L1667.2,1375.9 L1668.9,1375.9 L1670.5,1375.9 L1672.2,1375.9 L1673.8,1375.9 L1675.5,1375.9 L1677.1,1375.9 L1678.8,1375.9 L1680.4,1375.9 L1682.1,1375.9 L1683.7,1375.9 L1685.4,1375.9 L1687.0,1375.9 L1688.7,1375.9 L1690.3,1375.9 L1692.0,1375.9 L1693.6,1375.9 L1695.3,1375.9 L1696.9,1375.9 L1698.5,1375.9 L1700.2,1375.9 L1701.8,1375.9 L1703.5,1375.9 L1705.1,1375.9 L1706.8,1375.9 L1708.4,1375.9 L1710.1,1375.9 L1711.7,1375.9 L1713.4,1375.9 L1715.0,1375.9 L1716.7,1375.9 L1718.3,1375.9 L1720.0,1375.9 L1721.6,1375.9 L1723.3,1375.9 L1724.9,1375.9 L1726.6,1375.9 L1728.2,1375.9 L1729.9,1375.9 L1731.5,1375.9 L1733.1,1375.9 L1734.8,1375.9 L1736.4,1375.9 L1738.1,1375.9 L1739.7,1375.9 L1741.4,1375.9 L1743.0,1375.9 L1744.7,1375.9 L1746.3,1375.9 L1748.0,1375.9 L1749.6,1375.9 L1751.3,1375.9 L1752.9,1375.9 L1754.6,1375.9 L1756.2,1375.9 L1757.9,1375.9 L1759.5,1375.9 L1761.2,1375.9 L1762.8,1375.9 L1764.5,1375.9 L1766.1,1375.9 L1767.7,1375.9 L1769.4,1375.9 L1771.0,1375.9 L1772.7,1375.9 L1774.3,1375.9 L1776.0,1375.9 L1777.6,1375.9 L1779.3,1375.9 L1780.9,1375.9 L1782.6,1375.9 L1784.2,1375.9 L1785.9,1375.9 L1787.5,1375.9 L1789.2,1375.9 L1790.8,1375.9 L1792.5,1375.9 L1794.1,1375.9 L1795.8,1375.9 L1797.4,1375.9 L1799.1,1375.9 L1800.7,1375.9 L1802.3,1375.9 L1804.0,1375.9 L1805.6,1375.9 L1807.3,1375.9 L1808.9,1375.9 L1810.6,1375.9 L1812.2,1375.9 L1813.9,1375.9 L1815.5,1375.9 L1817.2,1375.9 L1818.8,1375.9 L1820.5,1375.9 L1822.1,1375.9 L1823.8,1375.9 L1825.4,1375.9 L1827.1,1375.9 L1828.7,1375.9 L1830.4,1375.9 L1832.0,1375.9" fill="none" stroke="#0000ff" stroke-width="9" stroke-linejoin="round" shape-rendering="crispEdges" />
<path d="M203.0,1394.5 L205.6,1393.7 L208.0,1392.6 L210.2,1391.3 L212.1,1389.8 L213.8,1388.0 L215.4,1386.1 L216.8,1384.1 L218.1,1381.9 L219.2,1379.6 L220.2,1377.3 L221.2,1374.8 L222.1,1372.4 L222.9,1369.9 L223.7,1367.4 L224.5,1364.9 L225.3,1362.3 L226.0,1359.8 L226.7,1357.3 L227.4,1354.8 L228.1,1352.3 L228.8,1349.8 L229.4,1347.3 L230.0,1344.8 L230.6,1342.3 L231.2,1339.8 L231.8,1337.3 L232.3,1334.7 L232.9,1332.2 L233.4,1329.7 L233.9,1327.2 L234.4,1324.7 L235.0,1322.1 L235.5,1319.6 L236.0,1317.1 L236.4,1314.6 L236.9,1312.1 L237.4,1309.5 L237.9,1307.0 L238.4,1304.5 L238.9,1301.9 L239.3,1299.4 L239.8,1296.9 L240.2,1294.3 L240.7,1291.8 L241.2,1289.3 L241.6,1286.7 L242.0,1284.2 L242.5,1281.6 L242.9,1279.1 L243.4,1276.6 L243.8,1274.0 L244.2,1271.5 L244.6,1268.9 L245.1,1266.4 L245.5,1263.8 L245.9,1261.3 L246.3,1258.8 L246.7,1256.2 L247.1,1253.7 L247.5,1251.1 L247.9,1248.6 L248.3,1246.0 L248.7,1243.5 L249.1,1240.9 L249.5,1238.4 L249.9,1235.8 L250.3,1233.3 L250.7,1230.7 L251.1,1228.2 L251.4,1225.6 L251.8,1223.1 L252.2,1220.5 L252.6,1217.9 L253.0,1215.4 L253.3,1212.8 L253.7,1210.3 L254.1,1207.7 L254.4,1205.2 L254.8,1202.6 L255.2,1200.1 L255.6,1197.5 L255.9,1195.0 L256.3,1192.4 L256.7,1189.8 L257.0,1187.3 L257.4,1184.7 L257.8,1182.2 L258.1,1179.6 L258.5,1177.1 L258.8,1174.5 L259.2,1172.0 L259.6,1169.4 L259.9,1166.9 L260.3,1164.3 L260.6,1161.7 L261.0,1159.2 L261.4,1156.6 L261.7,1154.1 L262.1,1151.5 L262.4,1149.0 L262.8,1146.4 L263.1,1143.9 L263.5,1141.3 L263.9,1138.7 L264.2,1136.2 L264.6,1133.6 L264.9,1131.1 L265.3,1128.5 L265.6,1126.0 L266.0,1123.4 L266.3,1120.9 L266.7,1118.3 L267.0,1115.7 L267.4,1113.2 L267.7,1110.6 L268.1,1108.1 L268.4,1105.5 L268.8,1103.0 L269.1,1100.4 L269.5,1097.9 L269.8,1095.3 L270.1,1092.7 L270.5,1090.2 L270.8,1087.6 L271.2,1085.1 L271.5,1082.5 L271.9,1080.0 L272.2,1077.4 L272.6,1074.9 L272.9,1072.3 L273.2,1069.7 L273.6,1067.2 L273.9,1064.6 L274.3,1062.1 L274.6,1059.5 L275.0,1057.0 L275.3,1054.4 L275.6,1051.8 L276.0,1049.3 L276.3,1046.7 L276.7,1044.2 L277.0,1041.6 L277.3,1039.1 L277.7,1036.5 L278.0,1034.0 L278.4,1031.4 L278.7,1028.8 L279.0,1026.3 L279.4,1023.7 L279.7,1021.2 L280.1,1018.6 L280.4,1016.1 L280.7,1013.5 L281.1,1010.9 L281.4,1008.4 L281.8,1005.8 L282.1,1003.3 L282.4,1000.7 L282.8,998.2 L283.1,995.6 L283.4,993.1 L283.8,990.5 L284.1,987.9 L284.5,985.4 L284.8,982.8 L285.1,980.3 L285.5,977.7 L285.8,975.2 L286.2,972.6 L286.5,970.0 L286.8,967.5 L287.2,964.9 L287.5,962.4 L287.9,959.8 L288.2,957.3 L288.5,954.7 L288.9,952.1 L289.2,949.6 L289.6,947.0 L289.9,944.5 L290.2,941.9 L290.6,939.4 L290.9,936.8 L291.3,934.3 L291.6,931.7 L291.9,929.1 L292.3,926.6 L292.6,924.0 L293.0,921.5 L293.3,918.9 L293.7,916.4 L294.0,913.8 L294.4,911.2 L294.7,908.7 L295.0,906.1 L295.4,903.6 L295.7,901.0 L296.1,898.5 L296.4,895.9 L296.8,893.4 L297.1,890.8 L297.5,888.2 L297.8,885.7 L298.2,883.1 L298.5,880.6 L298.9,878.0 L299.2,875.5 L299.6,872.9 L299.9,870.3 L300.3,867.8 L300.6,865.2 L301.0,862.7 L301.3,860.1 L301.7,857.6 L302.0,855.0 L302.4,852.5 L302.7,849.9 L303.1,847.3 L303.4,844.8 L303.8,842.2 L304.2,839.7 L304.5,837.1 L304.9,834.6 L305.2,832.0 L305.6,829.5 L306.0,826.9 L306.3,824.3 L306.7,821.8 L307.0,819.2 L307.4,816.7 L307.8,814.1 L308.1,811.6 L308.5,809.0 L308.9,806.5 L309.2,803.9 L309.6,801.3 L310.0,798.8 L310.4,796.2 L310.7,793.7 L311.1,791.1 L311.5,788.6 L311.9,786.0 L312.2,783.5 L312.6,780.9 L313.0,778.4 L313.4,775.8 L313.7,773.3 L314.1,770.7 L314.5,768.2 L314.9,765.6 L315.3,763.1 L315.7,760.5 L316.1,758.0 L316.4,755.4 L316.8,752.8 L317.2,750.3 L317.6,747.7 L318.0,745.2 L318.4,742.6 L318.8,740.1 L319.2,737.5 L319.6,735.0 L320.0,732.5 L320.4,729.9 L320.8,727.4 L321.2,724.8 L321.6,722.3 L322.1,719.7 L322.5,717.2 L322.9,714.6 L323.3,712.1 L323.7,709.5 L324.1,707.0 L324.5,704.4 L325.0,701.9 L325.4,699.4 L325.8,696.8 L326.2,694.3 L326.7,691.7 L327.1,689.2 L327.5,686.6 L328.0,684.1 L328.4,681.6 L328.8,679.0 L329.3,676.5 L329.7,673.9 L330.2,671.4 L330.6,668.8 L331.0,666.3 L331.5,663.8 L331.9,661.2 L332.4,658.7 L332.8,656.2 L333.3,653.6 L333.8,651.1 L334.2,648.5 L334.7,646.0 L335.1,643.5 L335.6,640.9 L336.1,638.4 L336.6,635.9 L337.0,633.3 L337.5,630.8 L338.0,628.3 L338.5,625.7 L339.0,623.2 L339.4,620.7 L339.9,618.2 L340.4,615.6 L340.9,613.1 L341.4,610.6 L341.9,608.0 L342.4,605.5 L342.9,603.0 L343.4,600.5 L344.0,597.9 L344.5,595.4 L345.0,592.9 L345.5,590.4 L346.0,587.9 L346.6,585.3 L347.1,582.8 L347.6,580.3 L348.2,577.8 L348.7,575.3 L349.3,572.7 L349.8,570.2 L350.4,567.7 L351.0,565.2 L351.5,562.7 L352.1,560.2 L352.7,557.6 L353.2,555.1 L353.8,552.6 L354.4,550.1 L355.0,547.6 L355.6,545.1 L356.2,542.6 L356.8,540.1 L357.4,537.6 L358.0,535.1 L358.6,532.6 L359.3,530.1 L359.9,527.6 L360.5,525.1 L361.2,522.6 L361.8,520.1 L362.4,517.6 L363.1,515.1 L363.8,512.6 L364.4,510.1 L365.1,507.6 L365.8,505.1 L366.4,502.6 L367.1,500.1 L367.8,497.6 L368.5,495.1 L369.2,492.6 L369.9,490.2 L370.6,487.7 L371.4,485.2 L372.1,482.7 L372.8,480.2 L373.6,477.7 L374.3,475.3 L375.1,472.8 L375.8,470.3 L376.6,467.8 L377.3,465.4 L378.1,462.9 L378.9,460.4 L379.7,458.0 L380.6,455.5 L381.4,453.1 L382.3,450.6 L383.2,448.2 L384.1,445.8 L385.0,443.4 L386.0,441.0 L387.0,438.6 L388.1,436.3 L389.1,433.9 L390.3,431.6 L391.4,429.3 L392.6,427.0 L393.9,424.8 L395.2,422.6 L396.5,420.4 L397.9,418.2 L399.4,416.0 L400.9,413.9 L402.5,411.8 L404.1,409.7 L405.8,407.7 L407.6,405.8 L409.5,404.0 L411.5,402.4 L413.6,401.0 L415.8,399.9 L418.2,399.1 L420.7,398.6 L423.2,398.3 L425.7,398.3 L428.2,398.6 L430.7,399.1 L433.0,399.7 L435.2,400.6 L437.4,401.6 L439.4,402.8 L441.3,404.1 L443.2,405.6 L445.0,407.2 L446.7,408.9 L448.3,410.8 L449.9,412.8 L451.4,414.8 L452.9,416.9 L454.3,419.1 L455.7,421.4 L457.0,423.7 L458.3,426.0 L459.5,428.4 L460.8,430.8 L462.0,433.2 L463.1,435.6 L464.3,438.0 L465.5,440.4 L466.6,442.9 L467.7,445.3 L468.8,447.7 L469.9,450.1 L471.0,452.5 L472.1,454.9 L473.1,457.4 L474.2,459.8 L475.2,462.2 L476.2,464.6 L477.2,467.0 L478.1,469.5 L479.1,471.9 L480.0,474.3 L481.0,476.7 L481.9,479.2 L482.8,481.6 L483.7,484.0 L484.6,486.5 L485.5,488.9 L486.4,491.3 L487.2,493.8 L488.1,496.2 L488.9,498.6 L489.7,501.1 L490.6,503.5 L491.4,505.9 L492.2,508.4 L493.0,510.8 L493.7,513.3 L494.5,515.7 L495.3,518.2 L496.1,520.6 L496.8,523.0 L497.6,525.5 L498.3,527.9 L499.1,530.4 L499.8,532.8 L500.5,535.3 L501.2,537.8 L502.0,540.2 L502.7,542.7 L503.4,545.1 L504.1,547.6 L504.8,550.0 L505.5,552.5 L506.2,555.0 L506.9,557.4 L507.6,559.9 L508.3,562.3 L509.0,564.8 L509.6,567.3 L510.3,569.7 L511.0,572.2 L511.7,574.7 L512.4,577.2 L513.1,579.6 L513.7,582.1 L514.4,584.6 L515.1,587.0 L515.7,589.5 L516.4,592.0 L517.1,594.5 L517.8,597.0 L518.4,599.4 L519.1,601.9 L519.7,604.4 L520.4,606.9 L521.1,609.4 L521.7,611.8 L522.4,614.3 L523.0,616.8 L523.7,619.3 L524.3,621.8 L525.0,624.3 L525.6,626.8 L526.3,629.3 L526.9,631.7 L527.6,634.2 L528.2,636.7 L528.9,639.2 L529.5,641.7 L530.2,644.2 L530.8,646.7 L531.4,649.2 L532.1,651.7 L532.7,654.2 L533.3,656.7 L534.0,659.2 L534.6,661.7 L535.3,664.2 L535.9,666.7 L536.5,669.2 L537.1,671.7 L537.8,674.2 L538.4,676.7 L539.0,679.2 L539.7,681.7 L540.3,684.2 L540.9,686.7 L541.5,689.2 L542.2,691.7 L542.8,694.2 L543.4,696.7 L544.0,699.2 L544.7,701.7 L545.3,704.2 L545.9,706.7 L546.5,709.2 L547.1,711.7 L547.8,714.3 L548.4,716.8 L549.0,719.3 L549.6,721.8 L550.2,724.3 L550.9,726.8 L551.5,729.3 L552.1,731.8 L552.7,734.3 L553.3,736.8 L553.9,739.3 L554.6,741.9 L555.2,744.4 L555.8,746.9 L556.4,749.4 L557.0,751.9 L557.6,754.4 L558.3,756.9 L558.9,759.4 L559.5,761.9 L560.1,764.5 L560.7,767.0 L561.3,769.5 L562.0,772.0 L562.6,774.5 L563.2,777.0 L563.8,779.5 L564.4,782.0 L565.0,784.5 L565.6,787.1 L566.3,789.6 L566.9,792.1 L567.5,794.6 L568.1,797.1 L568.7,799.6 L569.4,802.1 L570.0,804.6 L570.6,807.1 L571.2,809.7 L571.8,812.2 L572.5,814.7 L573.1,817.2 L573.7,819.7 L574.3,822.2 L574.9,824.7 L575.6,827.2 L576.2,829.7 L576.8,832.2 L577.4,834.8 L578.1,837.3 L578.7,839.8 L579.3,842.3 L579.9,844.8 L580.6,847.3 L581.2,849.8 L581.8,852.3 L582.5,854.8 L583.1,857.3 L583.7,859.8 L584.4,862.3 L585.0,864.8 L585.6,867.3 L586.3,869.8 L586.9,872.3 L587.5,874.8 L588.2,877.3 L588.8,879.8 L589.5,882.3 L590.1,884.8 L590.7,887.3 L591.4,889.8 L592.0,892.3 L592.7,894.8 L593.3,897.3 L594.0,899.8 L594.6,902.3 L595.3,904.8 L595.9,907.3 L596.6,909.8 L597.2,912.3 L597.9,914.8 L598.6,917.3 L599.2,919.8 L599.9,922.3 L600.6,924.8 L601.2,927.2 L601.9,929.7 L602.5,932.2 L603.2,934.7 L603.9,937.2 L604.6,939.7 L605.2,942.2 L605.9,944.6 L606.6,947.1 L607.3,949.6 L608.0,952.1 L608.6,954.6 L609.3,957.0 L610.0,959.5 L610.7,962.0 L611.4,964.5 L612.1,967.0 L612.8,969.4 L613.5,971.9 L614.2,974.4 L614.9,976.8 L615.6,979.3 L616.3,981.8 L617.1,984.3 L617.8,986.7 L618.5,989.2 L619.2,991.7 L619.9,994.1 L620.7,996.6 L621.4,999.1 L622.1,1001.5 L622.9,1004.0 L623.6,1006.4 L624.4,1008.9 L625.1,1011.4 L625.9,1013.8 L626.6,1016.3 L627.4,1018.7 L628.1,1021.2 L628.9,1023.6 L629.7,1026.1 L630.4,1028.6 L631.2,1031.0 L632.0,1033.5 L632.8,1035.9 L633.6,1038.4 L634.3,1040.8 L635.1,1043.2 L635.9,1045.7 L636.7,1048.1 L637.5,1050.6 L638.4,1053.0 L639.2,1055.5 L640.0,1057.9 L640.8,1060.3 L641.6,1062.8 L642.5,1065.2 L643.3,1067.7 L644.1,1070.1 L645.0,1072.5 L645.8,1075.0 L646.7,1077.4 L647.6,1079.8 L648.4,1082.2 L649.3,1084.7 L650.2,1087.1 L651.0,1089.5 L651.9,1091.9 L652.8,1094.4 L653.7,1096.8 L654.6,1099.2 L655.5,1101.6 L656.4,1104.0 L657.3,1106.5 L658.2,1108.9 L659.2,1111.3 L660.1,1113.7 L661.0,1116.1 L662.0,1118.5 L662.9,1120.9 L663.9,1123.4 L664.8,1125.8 L665.8,1128.2 L666.8,1130.6 L667.7,1133.0 L668.7,1135.4 L669.7,1137.8 L670.7,1140.2 L671.7,1142.6 L672.7,1145.0 L673.7,1147.4 L674.7,1149.7 L675.8,1152.1 L676.8,1154.5 L677.8,1156.9 L678.9,1159.3 L680.0,1161.6 L681.0,1164.0 L682.1,1166.4 L683.2,1168.7 L684.3,1171.1 L685.4,1173.4 L686.5,1175.8 L687.6,1178.1 L688.7,1180.5 L689.9,1182.8 L691.0,1185.1 L692.2,1187.4 L693.3,1189.7 L694.5,1192.0 L695.7,1194.3 L696.9,1196.6 L698.1,1198.9 L699.3,1201.2 L700.6,1203.5 L701.8,1205.7 L703.0,1208.0 L704.3,1210.2 L705.6,1212.5 L706.9,1214.7 L708.2,1216.9 L709.5,1219.1 L710.8,1221.3 L712.2,1223.5 L713.5,1225.7 L714.9,1227.9 L716.3,1230.1 L717.6,1232.2 L719.0,1234.4 L720.5,1236.5 L721.9,1238.6 L723.3,1240.8 L724.8,1242.9 L726.3,1245.0 L727.8,1247.0 L729.3,1249.1 L730.8,1251.2 L732.3,1253.2 L733.9,1255.3 L735.4,1257.3 L737.0,1259.3 L738.6,1261.3 L740.2,1263.3 L741.9,1265.3 L743.5,1267.2 L745.2,1269.2 L746.9,1271.1 L748.6,1273.0 L750.3,1274.9 L752.0,1276.8 L753.7,1278.7 L755.5,1280.5 L757.3,1282.4 L759.1,1284.2 L760.9,1286.0 L762.7,1287.8 L764.6,1289.6 L766.5,1291.4 L768.4,1293.1 L770.3,1294.9 L772.2,1296.6 L774.2,1298.3 L776.1,1300.0 L778.1,1301.6 L780.1,1303.3 L782.2,1304.9 L784.2,1306.5 L786.3,1308.1 L788.4,1309.7 L790.5,1311.2 L792.6,1312.7 L794.7,1314.2 L796.9,1315.6 L799.0,1317.1 L801.2,1318.5 L803.4,1319.8 L805.6,1321.2 L807.9,1322.5 L810.1,1323.7 L812.4,1325.0 L814.7,1326.2 L817.0,1327.3 L819.3,1328.5 L821.7,1329.6 L824.0,1330.6 L826.4,1331.6 L828.8,1332.6 L831.2,1333.6 L833.6,1334.5 L836.1,1335.3 L838.5,1336.1 L841.0,1336.9 L843.4,1337.7 L845.9,1338.4 L848.4,1339.1 L850.9,1339.8 L853.4,1340.5 L855.9,1341.1 L858.4,1341.8 L860.9,1342.4 L863.4,1343.0 L866.0,1343.6 L868.5,1344.2 L871.0,1344.8 L873.5,1345.3 L876.0,1345.9 L878.6,1346.4 L881.1,1346.9 L883.6,1347.4 L886.1,1347.9 L888.7,1348.4 L891.2,1348.9 L893.7,1349.4 L896.3,1349.9 L898.8,1350.3 L901.4,1350.8 L903.9,1351.2 L906.4,1351.6 L909.0,1352.0 L911.5,1352.4 L914.1,1352.8 L916.6,1353.2 L919.2,1353.6 L921.7,1353.9 L924.3,1354.3 L926.8,1354.6 L929.4,1354.9 L931.9,1355.3 L934.5,1355.6 L937.1,1355.9 L939.6,1356.2 L942.2,1356.5 L944.7,1356.8 L947.3,1357.0 L949.9,1357.3 L952.4,1357.6 L955.0,1357.8 L957.5,1358.0 L960.1,1358.3 L962.7,1358.5 L965.2,1358.7 L967.8,1358.9 L970.4,1359.1 L972.9,1359.3 L975.5,1359.5 L978.1,1359.7 L980.6,1359.8 L983.2,1360.0 L985.8,1360.2 L988.4,1360.3 L990.9,1360.5 L993.5,1360.6 L996.1,1360.8 L998.7,1360.9 L1001.2,1361.0 L1003.8,1361.1 L1006.4,1361.2 L1008.9,1361.3 L1011.5,1361.5 L1014.1,1361.5 L1016.7,1361.6 L1019.3,1361.7 L1021.8,1361.8 L1024.4,1361.9 L1027.0,1362.0 L1029.6,1362.0 L1032.1,1362.1 L1034.7,1362.2 L1037.3,1362.2 L1039.9,1362.3 L1042.5,1362.3 L1045.0,1362.4 L1047.6,1362.4 L1050.2,1362.5 L1052.8,1362.5 L1055.4,1362.6 L1058.0,1362.6 L1060.5,1362.6 L1063.1,1362.7 L1065.7,1362.7 L1068.3,1362.7 L1070.9,1362.7 L1073.4,1362.8 L1076.0,1362.8 L1078.6,1362.8 L1081.2,1362.8 L1083.8,1362.8 L1086.4,1362.9 L1088.9,1362.9 L1091.5,1362.9 L1094.1,1362.9 L1096.7,1362.9 L1099.3,1362.9 L1101.9,1362.9 L1104.4,1363.0 L1107.0,1363.0 L1109.6,1363.0 L1112.2,1363.0 L1114.8,1363.0 L1117.4,1363.0 L1119.9,1363.0 L1122.5,1363.1 L1125.1,1363.1 L1127.7,1363.1 L1130.3,1363.1 L1132.8,1363.1 L1135.4,1363.1 L1138.0,1363.1 L1140.6,1363.1 L1143.2,1363.2 L1145.8,1363.2 L1148.3,1363.2 L1150.9,1363.2 L1153.5,1363.2 L1156.1,1363.2 L1158.7,1363.2 L1161.2,1363.2 L1163.8,1363.2 L1166.4,1363.3 L1169.0,1363.3 L1171.6,1363.3 L1174.2,1363.3 L1176.7,1363.3 L1179.3,1363.3 L1181.9,1363.3 L1184.5,1363.3 L1187.1,1363.3 L1189.6,1363.4 L1192.2,1363.4 L1194.8,1363.4 L1197.4,1363.4 L1200.0,1363.4 L1202.5,1363.4 L1205.1,1363.4 L1207.7,1363.4 L1210.3,1363.4 L1212.9,1363.4 L1215.5,1363.5 L1218.0,1363.5 L1220.6,1363.5 L1223.2,1363.5 L1225.8,1363.5 L1228.4,1363.5 L1230.9,1363.5 L1233.5,1363.5 L1236.1,1363.5 L1238.7,1363.5 L1241.3,1363.5 L1243.8,1363.6 L1246.4,1363.6 L1249.0,1363.6 L1251.6,1363.6 L1254.2,1363.6 L1256.7,1363.6 L1259.3,1363.6 L1261.9,1363.6 L1264.5,1363.6 L1267.1,1363.6 L1269.6,1363.6 L1272.2,1363.6 L1274.8,1363.6 L1277.4,1363.7 L1280.0,1363.7 L1282.5,1363.7 L1285.1,1363.7 L1287.7,1363.7 L1290.3,1363.7 L1292.9,1363.7 L1295.4,1363.7 L1298.0,1363.7 L1300.6,1363.7 L1303.2,1363.7 L1305.8,1363.7 L1308.3,1363.7 L1310.9,1363.7 L1313.5,1363.7 L1316.1,1363.8 L1318.7,1363.8 L1321.2,1363.8 L1323.8,1363.8 L1326.4,1363.8 L1329.0,1363.8 L1331.6,1363.8 L1334.1,1363.8 L1336.7,1363.8 L1339.3,1363.8 L1341.9,1363.8 L1344.5,1363.8 L1347.0,1363.8 L1349.6,1363.8 L1352.2,1363.8 L1354.8,1363.8 L1357.3,1363.8 L1359.9,1363.8 L1362.5,1363.9 L1365.1,1363.9 L1367.7,1363.9 L1370.2,1363.9 L1372.8,1363.9 L1375.4,1363.9 L1378.0,1363.9 L1380.6,1363.9 L1383.1,1363.9 L1385.7,1363.9 L1388.3,1363.9 L1390.9,1363.9 L1393.5,1363.9 L1396.0,1363.9 L1398.6,1363.9 L1401.2,1363.9 L1403.8,1363.9 L1406.4,1363.9 L1408.9,1363.9 L1411.5,1363.9 L1414.1,1363.9 L1416.7,1363.9 L1419.2,1363.9 L1421.8,1363.9 L1424.4,1363.9 L1427.0,1364.0 L1429.6,1364.0 L1432.1,1364.0 L1434.7,1364.0 L1437.3,1364.0 L1439.9,1364.0 L1442.5,1364.0 L1445.0,1364.0 L1447.6,1364.0 L1450.2,1364.0 L1452.8,1364.0 L1455.4,1364.0 L1457.9,1364.0 L1460.5,1364.0 L1463.1,1364.0 L1465.7,1364.0 L1468.2,1364.0 L1470.8,1364.0 L1473.4,1364.0 L1476.0,1364.0 L1478.6,1364.0 L1481.1,1364.0 L1483.7,1364.0 L1486.3,1364.0 L1488.9,1364.0 L1491.5,1364.0 L1494.0,1364.0 L1496.6,1364.0 L1499.2,1364.0 L1501.8,1364.0 L1504.4,1364.0 L1506.9,1364.0 L1509.5,1364.0 L1512.1,1364.0 L1514.7,1364.0 L1517.2,1364.0 L1519.8,1364.0 L1522.4,1364.0 L1525.0,1364.0 L1527.6,1364.0 L1530.1,1364.0 L1532.7,1364.0 L1535.3,1364.0 L1537.9,1364.0 L1540.5,1364.0 L1543.0,1364.0 L1545.6,1364.0 L1548.2,1364.0 L1550.8,1364.0 L1553.4,1364.0 L1555.9,1364.0 L1558.5,1364.0 L1561.1,1364.0 L1563.7,1364.0 L1566.2,1364.0 L1568.8,1364.1 L1571.4,1364.1 L1574.0,1364.1 L1576.6,1364.1 L1579.1,1364.1 L1581.7,1364.1 L1584.3,1364.1 L1586.9,1364.1 L1589.5,1364.1 L1592.0,1364.1 L1594.6,1364.1 L1597.2,1364.1 L1599.8,1364.1 L1602.4,1364.1 L1604.9,1364.1 L1607.5,1364.1 L1610.1,1364.1 L1612.7,1364.1 L1615.3,1364.1 L1617.8,1364.1 L1620.4,1364.1 L1623.0,1364.1 L1625.6,1364.1 L1628.1,1364.1 L1630.7,1364.1 L1633.3,1364.1 L1635.9,1364.1 L1638.5,1364.1 L1641.0,1364.1 L1643.6,1364.1 L1646.2,1364.1 L1648.8,1364.1 L1651.4,1364.1 L1653.9,1364.1 L1656.5,1364.1 L1659.1,1364.1 L1661.7,1364.1 L1664.3,1364.1 L1666.8,1364.1 L1669.4,1364.1 L1672.0,1364.1 L1674.6,1364.0 L1677.2,1364.0 L1679.7,1364.0 L1682.3,1364.0 L1684.9,1364.0 L1687.5,1364.0 L1690.1,1364.0 L1692.6,1364.0 L1695.2,1364.0 L1697.8,1364.0 L1700.4,1364.0 L1703.0,1364.0 L1705.5,1364.0 L1708.1,1364.0 L1710.7,1364.0 L1713.3,1364.0 L1715.9,1364.0 L1718.4,1364.0 L1721.0,1364.0 L1723.6,1364.0 L1726.2,1364.0 L1728.8,1364.0 L1731.3,1364.0 L1733.9,1364.0 L1736.5,1364.0 L1739.1,1364.0 L1741.7,1364.0 L1744.2,1364.0 L1746.8,1364.0 L1749.4,1364.0 L1752.0,1364.0 L1754.6,1364.0 L1757.1,1364.0 L1759.7,1364.0 L1762.3,1364.0 L1764.9,1364.0 L1767.5,1364.0 L1770.0,1364.0 L1772.6,1364.0 L1775.2,1364.0 L1777.8,1364.0 L1780.4,1364.0 L1783.0,1364.0 L1785.5,1364.0 L1788.1,1364.0 L1790.7,1364.0 L1793.3,1364.0 L1795.9,1364.0 L1798.4,1364.0 L1801.0,1364.0 L1803.6,1364.0 L1806.2,1364.0 L1808.8,1364.0 L1811.3,1364.0 L1813.9,1364.0 L1816.5,1364.0 L1819.1,1364.0 L1821.7,1364.0 L1824.3,1364.0 L1826.8,1364.0 L1829.4,1364.0 L1832.0,1364.0" fill="none" stroke="#000000" stroke-width="9" stroke-linejoin="round" shape-rendering="crispEdges" />
<path d="M203.0,1394.5 L204.5,1394.5 L206.0,1394.5 L207.5,1394.5 L208.9,1394.5 L210.4,1394.5 L211.9,1394.5 L213.4,1394.5 L214.9,1394.5 L216.4,1394.5 L217.8,1394.5 L219.3,1394.5 L220.8,1394.5 L222.3,1394.5 L223.8,1394.5 L225.3,1394.5 L226.7,1394.5 L228.2,1394.5 L229.7,1394.5 L231.2,1394.5 L232.7,1394.5 L234.1,1394.5 L235.6,1394.5 L237.1,1394.5 L238.6,1394.5 L240.1,1394.5 L241.6,1394.5 L243.0,1394.5 L244.5,1394.5 L246.0,1394.5 L247.5,1394.5 L249.0,1394.5 L250.5,1394.5 L251.9,1394.5 L253.4,1394.5 L254.9,1394.5 L256.4,1394.5 L257.9,1394.5 L259.3,1394.5 L260.8,1394.5 L262.3,1394.5 L263.8,1394.5 L265.3,1394.5 L266.8,1394.5 L268.2,1394.5 L269.7,1394.5 L271.2,1394.5 L272.7,1394.5 L274.2,1394.5 L275.6,1394.5 L277.1,1394.5 L278.6,1394.5 L280.1,1394.5 L281.6,1394.5 L283.1,1394.5 L284.5,1394.5 L286.0,1394.5 L287.5,1394.5 L289.0,1394.5 L290.5,1394.5 L291.9,1394.5 L293.4,1394.5 L294.9,1394.5 L296.4,1394.5 L297.9,1394.5 L299.3,1394.5 L300.8,1394.5 L302.3,1394.5 L303.8,1394.5 L305.3,1394.5 L306.7,1394.5 L308.2,1394.5 L309.7,1394.5 L311.2,1394.5 L312.7,1394.5 L314.1,1394.5 L315.6,1394.5 L317.1,1394.5 L318.6,1394.5 L320.1,1394.5 L321.5,1394.5 L323.0,1394.5 L324.5,1394.5 L326.0,1394.5 L327.5,1394.5 L328.9,1394.5 L330.4,1394.5 L331.9,1394.5 L333.4,1394.5 L334.9,1394.5 L336.3,1394.5 L337.8,1394.5 L339.3,1394.5 L340.8,1394.5 L342.3,1394.5 L343.7,1394.5 L345.2,1394.5 L346.7,1394.5 L348.2,1394.5 L349.7,1394.5 L351.1,1394.5 L352.6,1394.5 L354.1,1394.5 L355.6,1394.5 L357.1,1394.5 L358.5,1394.5 L360.0,1394.5 L361.5,1394.5 L363.0,1394.5 L364.5,1394.5 L365.9,1394.5 L367.4,1394.5 L368.9,1394.5 L370.4,1394.5 L371.9,1394.5 L373.3,1394.5 L374.8,1394.5 L376.3,1394.5 L377.8,1394.5 L379.3,1394.5 L380.7,1394.5 L382.2,1394.5 L383.7,1394.5 L385.2,1394.5 L386.7,1394.5 L388.1,1394.5 L389.6,1394.5 L391.1,1394.5 L392.6,1394.5 L394.0,1394.5 L395.5,1394.5 L397.0,1394.5 L398.5,1394.5 L400.0,1394.5 L401.4,1394.5 L402.9,1394.5 L404.4,1394.5 L405.9,1394.5 L407.4,1394.5 L408.8,1394.5 L410.3,1394.5 L411.8,1394.5 L413.3,1394.5 L414.7,1394.5 L416.2,1394.5 L417.7,1394.5 L419.2,1394.5 L420.7,1394.5 L422.1,1394.5 L423.6,1394.5 L425.1,1394.5 L426.6,1394.5 L428.1,1394.5 L429.5,1394.5 L431.0,1394.5 L432.5,1394.5 L434.0,1394.5 L435.5,1394.5 L436.9,1394.5 L438.4,1394.5 L439.9,1394.5 L441.4,1394.5 L442.8,1394.5 L444.3,1394.5 L445.8,1394.5 L447.3,1394.5 L448.8,1394.5 L450.2,1394.5 L451.7,1394.5 L453.2,1394.5 L454.7,1394.5 L456.2,1394.5 L457.6,1394.5 L459.1,1394.5 L460.6,1394.5 L462.1,1394.5 L463.5,1394.5 L465.0,1394.5 L466.5,1394.5 L468.0,1394.5 L469.5,1394.5 L470.9,1394.5 L472.4,1394.5 L473.9,1394.5 L475.4,1394.2 L476.9,1394.2 L478.3,1394.2 L479.8,1394.2 L481.3,1394.1 L482.8,1394.1 L484.2,1394.1 L485.7,1394.1 L487.2,1394.1 L488.7,1394.1 L490.2,1394.1 L491.6,1394.0 L493.1,1394.0 L494.6,1394.0 L496.1,1394.0 L497.6,1394.0 L499.0,1394.0 L500.5,1394.0 L502.0,1393.9 L503.5,1393.9 L504.9,1393.9 L506.4,1393.9 L507.9,1393.9 L509.4,1393.8 L510.9,1393.8 L512.3,1393.8 L513.8,1393.8 L515.3,1393.8 L516.8,1393.7 L518.3,1393.7 L519.7,1393.7 L521.2,1393.7 L522.7,1393.7 L524.2,1393.6 L525.6,1393.6 L527.1,1393.6 L528.6,1393.6 L530.1,1393.5 L531.6,1393.5 L533.0,1393.5 L534.5,1393.5 L536.0,1393.4 L537.5,1393.4 L539.0,1393.4 L540.4,1393.4 L541.9,1393.3 L543.4,1393.3 L544.9,1393.3 L546.3,1393.2 L547.8,1393.2 L549.3,1393.2 L550.8,1393.1 L552.3,1393.1 L553.7,1393.1 L555.2,1393.1 L556.7,1393.0 L558.2,1393.0 L559.7,1393.0 L561.1,1392.9 L562.6,1392.9 L564.1,1392.8 L565.6,1392.8 L567.1,1392.8 L568.5,1392.7 L570.0,1392.7 L571.5,1392.7 L573.0,1392.6 L574.5,1392.6 L575.9,1392.6 L577.4,1392.5 L578.9,1392.5 L580.4,1392.4 L581.8,1392.4 L583.3,1392.3 L584.8,1392.3 L586.3,1392.3 L587.8,1392.2 L589.2,1392.2 L590.7,1392.1 L592.2,1392.1 L593.7,1392.0 L595.2,1392.0 L596.6,1391.9 L598.1,1391.9 L599.6,1391.9 L601.1,1391.8 L602.6,1391.8 L604.0,1391.7 L605.5,1391.7 L607.0,1391.6 L608.5,1391.6 L610.0,1391.5 L611.4,1391.5 L612.9,1391.4 L614.4,1391.3 L615.9,1391.3 L617.4,1391.2 L618.8,1391.2 L620.3,1391.1 L621.8,1391.1 L623.3,1391.0 L624.8,1391.0 L626.2,1390.9 L627.7,1390.8 L629.2,1390.8 L630.7,1390.7 L632.2,1390.7 L633.6,1390.6 L635.1,1390.5 L636.6,1390.5 L638.1,1390.4 L639.6,1390.3 L641.0,1390.3 L642.5,1390.2 L644.0,1390.2 L645.5,1390.1 L647.0,1390.0 L648.4,1389.9 L649.9,1389.9 L651.4,1389.8 L652.9,1389.7 L654.4,1389.7 L655.8,1389.6 L657.3,1389.5 L658.8,1389.5 L660.3,1389.4 L661.8,1389.3 L663.3,1389.2 L664.7,1389.2 L666.2,1389.1 L667.7,1389.0 L669.2,1388.9 L670.7,1388.8 L672.1,1388.8 L673.6,1388.7 L675.1,1388.6 L676.6,1388.5 L678.1,1388.4 L679.5,1388.3 L681.0,1388.2 L682.5,1388.1 L684.0,1388.1 L685.5,1388.0 L686.9,1387.9 L688.4,1387.8 L689.9,1387.7 L691.4,1387.6 L692.9,1387.5 L694.3,1387.4 L695.8,1387.3 L697.3,1387.2 L698.8,1387.1 L700.2,1387.0 L701.7,1386.9 L703.2,1386.7 L704.7,1386.6 L706.2,1386.5 L707.6,1386.4 L709.1,1386.3 L710.6,1386.2 L712.1,1386.0 L713.5,1385.9 L715.0,1385.8 L716.5,1385.7 L718.0,1385.5 L719.4,1385.4 L720.9,1385.3 L722.4,1385.1 L723.9,1385.0 L725.3,1384.9 L726.8,1384.7 L728.3,1384.6 L729.8,1384.4 L731.2,1384.3 L732.7,1384.1 L734.2,1384.0 L735.6,1383.8 L737.1,1383.7 L738.6,1383.5 L740.1,1383.4 L741.5,1383.2 L743.0,1383.0 L744.5,1382.9 L745.9,1382.7 L747.4,1382.5 L748.9,1382.3 L750.3,1382.2 L751.8,1382.0 L753.3,1381.8 L754.7,1381.6 L756.2,1381.4 L757.7,1381.2 L759.1,1381.0 L760.6,1380.8 L762.1,1380.6 L763.5,1380.4 L765.0,1380.2 L766.4,1380.0 L767.9,1379.8 L769.4,1379.6 L770.8,1379.4 L772.3,1379.2 L773.7,1378.9 L775.2,1378.7 L776.7,1378.5 L778.1,1378.3 L779.6,1378.0 L781.0,1377.8 L782.5,1377.5 L784.0,1377.3 L785.4,1377.1 L786.9,1376.8 L788.3,1376.5 L789.8,1376.3 L791.2,1376.0 L792.7,1375.8 L794.1,1375.5 L795.6,1375.2 L797.0,1375.0 L798.5,1374.7 L799.9,1374.4 L801.4,1374.1 L802.8,1373.8 L804.3,1373.5 L805.7,1373.2 L807.2,1372.9 L808.6,1372.6 L810.0,1372.3 L811.5,1372.0 L812.9,1371.7 L814.4,1371.4 L815.8,1371.1 L817.3,1370.7 L818.7,1370.4 L820.1,1370.1 L821.6,1369.8 L823.0,1369.4 L824.4,1369.1 L825.9,1368.7 L827.3,1368.4 L828.7,1368.0 L830.2,1367.7 L831.6,1367.3 L833.0,1366.9 L834.5,1366.5 L835.9,1366.2 L837.3,1365.8 L838.8,1365.4 L840.2,1365.0 L841.6,1364.6 L843.0,1364.2 L844.5,1363.8 L845.9,1363.4 L847.3,1363.0 L848.7,1362.6 L850.2,1362.2 L851.6,1361.8 L853.0,1361.3 L854.4,1360.9 L855.8,1360.5 L857.2,1360.0 L858.7,1359.6 L860.1,1359.1 L861.5,1358.7 L862.9,1358.2 L864.3,1357.8 L865.7,1357.3 L867.1,1356.8 L868.5,1356.4 L869.9,1355.9 L871.3,1355.4 L872.7,1354.9 L874.1,1354.5 L875.5,1354.0 L876.9,1353.5 L878.3,1353.0 L879.7,1352.5 L881.1,1352.0 L882.5,1351.4 L883.9,1350.9 L885.3,1350.4 L886.7,1349.9 L888.1,1349.4 L889.5,1348.8 L890.9,1348.3 L892.3,1347.8 L893.6,1347.2 L895.0,1346.7 L896.4,1346.1 L897.8,1345.6 L899.2,1345.0 L900.5,1344.5 L901.9,1343.9 L903.3,1343.3 L904.6,1342.7 L906.0,1342.2 L907.4,1341.6 L908.7,1341.0 L910.1,1340.4 L911.5,1339.8 L912.8,1339.2 L914.2,1338.6 L915.5,1338.0 L916.9,1337.4 L918.3,1336.8 L919.6,1336.2 L921.0,1335.6 L922.3,1334.9 L923.7,1334.3 L925.0,1333.7 L926.3,1333.1 L927.7,1332.4 L929.0,1331.8 L930.4,1331.1 L931.7,1330.5 L933.0,1329.8 L934.4,1329.2 L935.7,1328.5 L937.0,1327.9 L938.3,1327.2 L939.7,1326.5 L941.0,1325.8 L942.3,1325.2 L943.6,1324.5 L944.9,1323.8 L946.3,1323.1 L947.6,1322.4 L948.9,1321.7 L950.2,1321.0 L951.5,1320.3 L952.8,1319.6 L954.1,1318.9 L955.4,1318.2 L956.7,1317.4 L958.0,1316.7 L959.3,1316.0 L960.6,1315.3 L961.8,1314.5 L963.1,1313.8 L964.4,1313.1 L965.7,1312.3 L967.0,1311.6 L968.3,1310.8 L969.5,1310.1 L970.8,1309.3 L972.1,1308.5 L973.3,1307.8 L974.6,1307.0 L975.9,1306.2 L977.1,1305.5 L978.4,1304.7 L979.6,1303.9 L980.9,1303.1 L982.1,1302.3 L983.4,1301.5 L984.6,1300.7 L985.9,1299.9 L987.1,1299.1 L988.3,1298.3 L989.6,1297.5 L990.8,1296.7 L992.0,1295.9 L993.3,1295.1 L994.5,1294.2 L995.7,1293.4 L996.9,1292.6 L998.1,1291.7 L999.4,1290.9 L1000.6,1290.1 L1001.8,1289.2 L1003.0,1288.4 L1004.2,1287.5 L1005.4,1286.7 L1006.6,1285.8 L1007.8,1285.0 L1009.0,1284.1 L1010.2,1283.2 L1011.4,1282.4 L1012.6,1281.5 L1013.8,1280.6 L1014.9,1279.7 L1016.1,1278.9 L1017.3,1278.0 L1018.5,1277.1 L1019.7,1276.2 L1020.9,1275.3 L1022.0,1274.4 L1023.2,1273.5 L1024.4,1272.6 L1025.5,1271.7 L1026.7,1270.8 L1027.9,1269.9 L1029.0,1269.0 L1030.2,1268.1 L1031.4,1267.2 L1032.5,1266.3 L1033.7,1265.4 L1034.8,1264.5 L1036.0,1263.6 L1037.1,1262.6 L1038.3,1261.7 L1039.4,1260.8 L1040.6,1259.9 L1041.7,1258.9 L1042.9,1258.0 L1044.0,1257.1 L1045.2,1256.2 L1046.3,1255.2 L1047.5,1254.3 L1048.6,1253.3 L1049.7,1252.4 L1050.9,1251.5 L1052.0,1250.5 L1053.1,1249.6 L1054.3,1248.6 L1055.4,1247.7 L1056.5,1246.7 L1057.7,1245.8 L1058.8,1244.8 L1059.9,1243.9 L1061.1,1242.9 L1062.2,1242.0 L1063.3,1241.0 L1064.4,1240.1 L1065.6,1239.1 L1066.7,1238.1 L1067.8,1237.2 L1068.9,1236.2 L1070.1,1235.3 L1071.2,1234.3 L1072.3,1233.3 L1073.4,1232.4 L1074.5,1231.4 L1075.7,1230.4 L1076.8,1229.5 L1077.9,1228.5 L1079.0,1227.5 L1080.1,1226.6 L1081.2,1225.6 L1082.4,1224.6 L1083.5,1223.6 L1084.6,1222.7 L1085.7,1221.7 L1086.8,1220.7 L1087.9,1219.7 L1089.0,1218.8 L1090.2,1217.8 L1091.3,1216.8 L1092.4,1215.8 L1093.5,1214.9 L1094.6,1213.9 L1095.7,1212.9 L1096.8,1211.9 L1097.9,1211.0 L1099.1,1210.0 L1100.2,1209.0 L1101.3,1208.0 L1102.4,1207.1 L1103.5,1206.1 L1104.6,1205.1 L1105.7,1204.1 L1106.8,1203.2 L1108.0,1202.2 L1109.1,1201.2 L1110.2,1200.2 L1111.3,1199.3 L1112.4,1198.3 L1113.5,1197.3 L1114.6,1196.4 L1115.8,1195.4 L1116.9,1194.4 L1118.0,1193.5 L1119.1,1192.5 L1120.3,1191.5 L1121.4,1190.6 L1122.5,1189.6 L1123.6,1188.7 L1124.8,1187.7 L1125.9,1186.7 L1127.0,1185.8 L1128.2,1184.8 L1129.3,1183.9 L1130.4,1183.0 L1131.6,1182.0 L1132.7,1181.1 L1133.9,1180.1 L1135.0,1179.2 L1136.2,1178.3 L1137.3,1177.4 L1138.5,1176.4 L1139.7,1175.5 L1140.8,1174.6 L1142.0,1173.7 L1143.1,1172.8 L1144.3,1171.9 L1145.5,1171.0 L1146.7,1170.1 L1147.9,1169.2 L1149.0,1168.3 L1150.2,1167.4 L1151.4,1166.5 L1152.6,1165.6 L1153.8,1164.8 L1155.0,1163.9 L1156.2,1163.0 L1157.4,1162.2 L1158.6,1161.3 L1159.9,1160.5 L1161.1,1159.6 L1162.3,1158.8 L1163.5,1158.0 L1164.8,1157.1 L1166.0,1156.3 L1167.3,1155.5 L1168.5,1154.7 L1169.8,1153.9 L1171.0,1153.1 L1172.3,1152.3 L1173.6,1151.5 L1174.8,1150.7 L1176.1,1149.9 L1177.4,1149.2 L1178.7,1148.4 L1180.0,1147.6 L1181.3,1146.9 L1182.6,1146.1 L1183.9,1145.4 L1185.2,1144.7 L1186.5,1144.0 L1187.9,1143.2 L1189.2,1142.5 L1190.5,1141.8 L1191.8,1141.2 L1193.2,1140.5 L1194.5,1139.8 L1195.9,1139.2 L1197.2,1138.5 L1198.6,1137.9 L1199.9,1137.2 L1201.3,1136.6 L1202.7,1136.0 L1204.0,1135.4 L1205.4,1134.8 L1206.8,1134.2 L1208.2,1133.6 L1209.6,1133.1 L1210.9,1132.5 L1212.3,1132.0 L1213.7,1131.5 L1215.1,1130.9 L1216.5,1130.4 L1217.9,1130.0 L1219.3,1129.5 L1220.7,1129.0 L1222.1,1128.5 L1223.5,1128.1 L1225.0,1127.7 L1226.4,1127.3 L1227.8,1126.9 L1229.2,1126.5 L1230.6,1126.1 L1232.1,1125.7 L1233.5,1125.4 L1234.9,1125.0 L1236.3,1124.7 L1237.8,1124.4 L1239.2,1124.1 L1240.6,1123.9 L1242.1,1123.6 L1243.5,1123.4 L1245.0,1123.1 L1246.4,1122.9 L1247.8,1122.7 L1249.3,1122.5 L1250.7,1122.4 L1252.2,1122.2 L1253.6,1122.1 L1255.1,1122.0 L1256.5,1121.9 L1258.0,1121.8 L1259.4,1121.7 L1260.9,1121.7 L1262.3,1121.6 L1263.8,1121.6 L1265.2,1121.6 L1266.7,1121.7 L1268.1,1121.7 L1269.6,1121.8 L1271.0,1121.8 L1272.4,1121.9 L1273.9,1122.0 L1275.3,1122.2 L1276.8,1122.3 L1278.2,1122.5 L1279.7,1122.6 L1281.1,1122.8 L1282.6,1123.0 L1284.0,1123.3 L1285.5,1123.5 L1286.9,1123.8 L1288.3,1124.0 L1289.8,1124.3 L1291.2,1124.6 L1292.6,1124.9 L1294.1,1125.3 L1295.5,1125.6 L1296.9,1126.0 L1298.4,1126.3 L1299.8,1126.7 L1301.2,1127.1 L1302.6,1127.5 L1304.0,1127.9 L1305.5,1128.4 L1306.9,1128.8 L1308.3,1129.3 L1309.7,1129.8 L1311.1,1130.3 L1312.5,1130.8 L1313.9,1131.3 L1315.3,1131.8 L1316.7,1132.3 L1318.1,1132.9 L1319.4,1133.5 L1320.8,1134.0 L1322.2,1134.6 L1323.6,1135.2 L1324.9,1135.8 L1326.3,1136.4 L1327.6,1137.0 L1329.0,1137.7 L1330.3,1138.3 L1331.7,1139.0 L1333.0,1139.7 L1334.4,1140.3 L1335.7,1141.0 L1337.0,1141.7 L1338.3,1142.4 L1339.6,1143.1 L1341.0,1143.8 L1342.3,1144.6 L1343.6,1145.3 L1344.9,1146.1 L1346.1,1146.8 L1347.4,1147.6 L1348.7,1148.3 L1350.0,1149.1 L1351.2,1149.9 L1352.5,1150.7 L1353.7,1151.5 L1355.0,1152.3 L1356.2,1153.1 L1357.5,1153.9 L1358.7,1154.8 L1360.0,1155.6 L1361.2,1156.4 L1362.4,1157.3 L1363.6,1158.1 L1364.8,1159.0 L1366.1,1159.8 L1367.3,1160.7 L1368.5,1161.6 L1369.7,1162.4 L1370.9,1163.3 L1372.1,1164.2 L1373.3,1165.1 L1374.4,1166.0 L1375.6,1166.9 L1376.8,1167.8 L1378.0,1168.7 L1379.2,1169.6 L1380.3,1170.5 L1381.5,1171.4 L1382.7,1172.4 L1383.8,1173.3 L1385.0,1174.2 L1386.2,1175.1 L1387.3,1176.1 L1388.5,1177.0 L1389.6,1177.9 L1390.8,1178.9 L1392.0,1179.8 L1393.1,1180.7 L1394.3,1181.7 L1395.4,1182.6 L1396.5,1183.5 L1397.7,1184.5 L1398.8,1185.4 L1400.0,1186.4 L1401.1,1187.3 L1402.3,1188.3 L1403.4,1189.2 L1404.6,1190.1 L1405.7,1191.1 L1406.8,1192.0 L1408.0,1193.0 L1409.1,1193.9 L1410.2,1194.9 L1411.4,1195.8 L1412.5,1196.8 L1413.7,1197.7 L1414.8,1198.6 L1415.9,1199.6 L1417.1,1200.5 L1418.2,1201.5 L1419.3,1202.4 L1420.5,1203.4 L1421.6,1204.3 L1422.7,1205.3 L1423.9,1206.2 L1425.0,1207.2 L1426.1,1208.1 L1427.3,1209.1 L1428.4,1210.0 L1429.5,1211.0 L1430.7,1211.9 L1431.8,1212.8 L1432.9,1213.8 L1434.1,1214.7 L1435.2,1215.7 L1436.3,1216.6 L1437.5,1217.6 L1438.6,1218.5 L1439.7,1219.5 L1440.9,1220.4 L1442.0,1221.4 L1443.1,1222.3 L1444.3,1223.2 L1445.4,1224.2 L1446.6,1225.1 L1447.7,1226.1 L1448.8,1227.0 L1450.0,1228.0 L1451.1,1228.9 L1452.2,1229.8 L1453.4,1230.8 L1454.5,1231.7 L1455.7,1232.7 L1456.8,1233.6 L1457.9,1234.5 L1459.1,1235.5 L1460.2,1236.4 L1461.4,1237.3 L1462.5,1238.3 L1463.7,1239.2 L1464.8,1240.1 L1466.0,1241.1 L1467.1,1242.0 L1468.3,1242.9 L1469.4,1243.8 L1470.6,1244.8 L1471.7,1245.7 L1472.9,1246.6 L1474.0,1247.5 L1475.2,1248.5 L1476.3,1249.4 L1477.5,1250.3 L1478.6,1251.2 L1479.8,1252.1 L1481.0,1253.0 L1482.1,1254.0 L1483.3,1254.9 L1484.5,1255.8 L1485.6,1256.7 L1486.8,1257.6 L1488.0,1258.5 L1489.1,1259.4 L1490.3,1260.3 L1491.5,1261.2 L1492.7,1262.1 L1493.9,1263.0 L1495.0,1263.9 L1496.2,1264.8 L1497.4,1265.6 L1498.6,1266.5 L1499.8,1267.4 L1501.0,1268.3 L1502.2,1269.2 L1503.4,1270.1 L1504.5,1270.9 L1505.7,1271.8 L1506.9,1272.7 L1508.1,1273.5 L1509.3,1274.4 L1510.5,1275.3 L1511.8,1276.1 L1513.0,1277.0 L1514.2,1277.9 L1515.4,1278.7 L1516.6,1279.6 L1517.8,1280.4 L1519.0,1281.3 L1520.2,1282.1 L1521.5,1283.0 L1522.7,1283.8 L1523.9,1284.6 L1525.1,1285.5 L1526.4,1286.3 L1527.6,1287.1 L1528.8,1288.0 L1530.1,1288.8 L1531.3,1289.6 L1532.5,1290.4 L1533.8,1291.2 L1535.0,1292.1 L1536.2,1292.9 L1537.5,1293.7 L1538.7,1294.5 L1540.0,1295.3 L1541.2,1296.1 L1542.5,1296.9 L1543.7,1297.7 L1545.0,1298.5 L1546.2,1299.3 L1547.5,1300.0 L1548.8,1300.8 L1550.0,1301.6 L1551.3,1302.4 L1552.6,1303.2 L1553.8,1303.9 L1555.1,1304.7 L1556.4,1305.5 L1557.6,1306.2 L1558.9,1307.0 L1560.2,1307.7 L1561.5,1308.5 L1562.7,1309.2 L1564.0,1310.0 L1565.3,1310.7 L1566.6,1311.4 L1567.9,1312.2 L1569.2,1312.9 L1570.5,1313.6 L1571.7,1314.3 L1573.0,1315.1 L1574.3,1315.8 L1575.6,1316.5 L1576.9,1317.2 L1578.2,1317.9 L1579.5,1318.6 L1580.8,1319.3 L1582.2,1320.0 L1583.5,1320.7 L1584.8,1321.4 L1586.1,1322.1 L1587.4,1322.7 L1588.7,1323.4 L1590.0,1324.1 L1591.3,1324.7 L1592.7,1325.4 L1594.0,1326.1 L1595.3,1326.7 L1596.6,1327.4 L1598.0,1328.0 L1599.3,1328.7 L1600.6,1329.3 L1602.0,1329.9 L1603.3,1330.6 L1604.6,1331.2 L1606.0,1331.8 L1607.3,1332.4 L1608.7,1333.0 L1610.0,1333.7 L1611.4,1334.3 L1612.7,1334.9 L1614.1,1335.5 L1615.4,1336.0 L1616.8,1336.6 L1618.1,1337.2 L1619.5,1337.8 L1620.8,1338.4 L1622.2,1338.9 L1623.6,1339.5 L1624.9,1340.1 L1626.3,1340.6 L1627.7,1341.2 L1629.0,1341.7 L1630.4,1342.3 L1631.8,1342.8 L1633.1,1343.3 L1634.5,1343.9 L1635.9,1344.4 L1637.3,1344.9 L1638.7,1345.4 L1640.1,1345.9 L1641.4,1346.4 L1642.8,1346.9 L1644.2,1347.4 L1645.6,1347.9 L1647.0,1348.4 L1648.4,1348.9 L1649.8,1349.4 L1651.2,1349.8 L1652.6,1350.3 L1654.0,1350.7 L1655.4,1351.2 L1656.8,1351.6 L1658.2,1352.1 L1659.6,1352.5 L1661.0,1353.0 L1662.5,1353.4 L1663.9,1353.8 L1665.3,1354.2 L1666.7,1354.7 L1668.1,1355.1 L1669.5,1355.5 L1671.0,1355.9 L1672.4,1356.3 L1673.8,1356.7 L1675.2,1357.0 L1676.7,1357.4 L1678.1,1357.8 L1679.5,1358.2 L1681.0,1358.5 L1682.4,1358.9 L1683.8,1359.3 L1685.3,1359.6 L1686.7,1360.0 L1688.2,1360.3 L1689.6,1360.7 L1691.0,1361.0 L1692.5,1361.3 L1693.9,1361.7 L1695.4,1362.0 L1696.8,1362.3 L1698.3,1362.6 L1699.7,1362.9 L1701.2,1363.3 L1702.6,1363.6 L1704.1,1363.9 L1705.5,1364.2 L1707.0,1364.4 L1708.5,1364.7 L1709.9,1365.0 L1711.4,1365.3 L1712.8,1365.6 L1714.3,1365.9 L1715.7,1366.1 L1717.2,1366.4 L1718.7,1366.7 L1720.1,1366.9 L1721.6,1367.2 L1723.1,1367.4 L1724.5,1367.7 L1726.0,1367.9 L1727.5,1368.2 L1728.9,1368.4 L1730.4,1368.6 L1731.9,1368.9 L1733.3,1369.1 L1734.8,1369.3 L1736.3,1369.6 L1737.7,1369.8 L1739.2,1370.0 L1740.7,1370.2 L1742.2,1370.4 L1743.6,1370.6 L1745.1,1370.8 L1746.6,1371.0 L1748.1,1371.2 L1749.5,1371.4 L1751.0,1371.6 L1752.5,1371.8 L1754.0,1372.0 L1755.4,1372.2 L1756.9,1372.4 L1758.4,1372.6 L1759.9,1372.7 L1761.3,1372.9 L1762.8,1373.1 L1764.3,1373.3 L1765.8,1373.4 L1767.3,1373.6 L1768.7,1373.7 L1770.2,1373.9 L1771.7,1374.1 L1773.2,1374.2 L1774.6,1374.4 L1776.1,1374.5 L1777.6,1374.7 L1779.1,1374.8 L1780.5,1375.0 L1782.0,1375.1 L1783.5,1375.2 L1785.0,1375.4 L1786.5,1375.5 L1787.9,1375.6 L1789.4,1375.8 L1790.9,1375.9 L1792.4,1376.0 L1793.8,1376.2 L1795.3,1376.3 L1796.8,1376.4 L1798.3,1376.5 L1799.7,1376.6 L1801.2,1376.8 L1802.7,1376.9 L1804.1,1377.0 L1805.6,1377.1 L1807.1,1377.2 L1808.6,1377.3 L1810.0,1377.4 L1811.5,1377.5 L1813.0,1377.6 L1814.4,1377.8 L1815.9,1377.9 L1817.4,1378.0 L1818.8,1378.1 L1820.3,1378.2 L1821.8,1378.3 L1823.2,1378.3 L1824.7,1378.4 L1826.2,1378.5 L1827.6,1378.6 L1829.1,1378.7 L1830.5,1378.8 L1832.0,1378.9" fill="none" stroke="#00ff00" stroke-width="9" stroke-linejoin="round" shape-rendering="crispEdges" stroke-dasharray="9 6"/>
<path d="M203.0,1394.5 L204.4,1394.5 L205.8,1394.5 L207.2,1394.5 L208.6,1394.5 L210.0,1394.5 L211.4,1394.5 L212.8,1394.5 L214.2,1394.5 L215.6,1394.5 L217.0,1394.5 L218.4,1394.5 L219.8,1394.5 L221.2,1394.5 L222.6,1394.2 L224.0,1394.2 L225.4,1394.1 L226.8,1394.1 L228.1,1394.1 L229.5,1394.1 L230.9,1394.1 L232.3,1394.1 L233.7,1394.0 L235.1,1394.0 L236.5,1394.0 L237.9,1394.0 L239.3,1394.0 L240.7,1394.0 L242.1,1393.9 L243.5,1393.9 L244.9,1393.9 L246.3,1393.9 L247.7,1393.9 L249.1,1393.9 L250.5,1393.9 L251.9,1393.8 L253.3,1393.8 L254.7,1393.8 L256.1,1393.8 L257.5,1393.8 L258.9,1393.8 L260.3,1393.8 L261.6,1393.8 L263.0,1393.7 L264.4,1393.7 L265.8,1393.7 L267.2,1393.7 L268.6,1393.7 L270.0,1393.7 L271.4,1393.7 L272.8,1393.7 L274.2,1393.7 L275.6,1393.7 L277.0,1393.6 L278.4,1393.6 L279.8,1393.6 L281.2,1393.6 L282.6,1393.6 L284.0,1393.6 L285.4,1393.6 L286.7,1393.6 L288.1,1393.6 L289.5,1393.6 L290.9,1393.6 L292.3,1393.6 L293.7,1393.6 L295.1,1393.6 L296.5,1393.6 L297.9,1393.6 L299.3,1393.5 L300.7,1393.5 L302.1,1393.5 L303.5,1393.5 L304.9,1393.5 L306.3,1393.5 L307.7,1393.5 L309.0,1393.5 L310.4,1393.5 L311.8,1393.5 L313.2,1393.5 L314.6,1393.5 L316.0,1393.5 L317.4,1393.5 L318.8,1393.5 L320.2,1393.5 L321.6,1393.5 L323.0,1393.5 L324.4,1393.5 L325.8,1393.5 L327.2,1393.5 L328.5,1393.5 L329.9,1393.5 L331.3,1393.5 L332.7,1393.5 L334.1,1393.5 L335.5,1393.5 L336.9,1393.5 L338.3,1393.5 L339.7,1393.5 L341.1,1393.5 L342.5,1393.5 L343.9,1393.5 L345.3,1393.5 L346.6,1393.5 L348.0,1393.5 L349.4,1393.5 L350.8,1393.5 L352.2,1393.5 L353.6,1393.5 L355.0,1393.5 L356.4,1393.5 L357.8,1393.5 L359.2,1393.5 L360.6,1393.5 L362.0,1393.5 L363.4,1393.6 L364.7,1393.6 L366.1,1393.6 L367.5,1393.6 L368.9,1393.6 L370.3,1393.6 L371.7,1393.6 L373.1,1393.6 L374.5,1393.6 L375.9,1393.6 L377.3,1393.6 L378.7,1393.6 L380.0,1393.6 L381.4,1393.6 L382.8,1393.6 L384.2,1393.6 L385.6,1393.6 L387.0,1393.6 L388.4,1393.6 L389.8,1393.6 L391.2,1393.6 L392.6,1393.7 L394.0,1393.7 L395.3,1393.7 L396.7,1393.7 L398.1,1393.7 L399.5,1393.7 L400.9,1393.7 L402.3,1393.7 L403.7,1393.7 L405.1,1393.7 L406.5,1393.7 L407.9,1393.7 L409.3,1393.7 L410.6,1393.7 L412.0,1393.7 L413.4,1393.7 L414.8,1393.8 L416.2,1393.8 L417.6,1393.8 L419.0,1393.8 L420.4,1393.8 L421.8,1393.8 L423.2,1393.8 L424.6,1393.8 L425.9,1393.8 L427.3,1393.8 L428.7,1393.8 L430.1,1393.8 L431.5,1393.8 L432.9,1393.8 L434.3,1393.8 L435.7,1393.9 L437.1,1393.9 L438.5,1393.9 L439.8,1393.9 L441.2,1393.9 L442.6,1393.9 L444.0,1393.9 L445.4,1393.9 L446.8,1393.9 L448.2,1393.9 L449.6,1393.9 L451.0,1393.9 L452.4,1393.9 L453.7,1393.9 L455.1,1393.9 L456.5,1394.0 L457.9,1394.0 L459.3,1394.0 L460.7,1394.0 L462.1,1394.0 L463.5,1394.0 L464.9,1394.0 L466.3,1394.0 L467.6,1394.0 L469.0,1394.0 L470.4,1394.0 L471.8,1394.0 L473.2,1394.0 L474.6,1394.0 L476.0,1394.0 L477.4,1394.0 L478.8,1394.1 L480.2,1394.1 L481.5,1394.1 L482.9,1394.1 L484.3,1394.1 L485.7,1394.1 L487.1,1394.1 L488.5,1394.1 L489.9,1394.1 L491.3,1394.1 L492.7,1394.1 L494.1,1394.1 L495.4,1394.1 L496.8,1394.1 L498.2,1394.1 L499.6,1394.1 L501.0,1394.1 L502.4,1394.1 L503.8,1394.1 L505.2,1394.1 L506.6,1394.1 L507.9,1394.2 L509.3,1394.2 L510.7,1394.2 L512.1,1394.2 L513.5,1394.2 L514.9,1394.2 L516.3,1394.2 L517.7,1394.2 L519.1,1394.2 L520.5,1394.2 L521.8,1394.2 L523.2,1394.2 L524.6,1394.2 L526.0,1394.2 L527.4,1394.2 L528.8,1394.2 L530.2,1394.2 L531.6,1394.2 L533.0,1394.5 L534.4,1394.5 L535.7,1394.5 L537.1,1394.5 L538.5,1394.5 L539.9,1394.5 L541.3,1394.5 L542.7,1394.5 L544.1,1394.5 L545.5,1394.5 L546.9,1394.5 L548.2,1394.5 L549.6,1394.5 L551.0,1394.5 L552.4,1394.5 L553.8,1394.5 L555.2,1394.5 L556.6,1394.2 L558.0,1394.2 L559.4,1394.2 L560.8,1394.2 L562.1,1394.2 L563.5,1394.2 L564.9,1394.2 L566.3,1394.2 L567.7,1394.2 L569.1,1394.2 L570.5,1394.2 L571.9,1394.2 L573.3,1394.2 L574.7,1394.2 L576.0,1394.2 L577.4,1394.2 L578.8,1394.1 L580.2,1394.1 L581.6,1394.1 L583.0,1394.1 L584.4,1394.1 L585.8,1394.1 L587.2,1394.1 L588.6,1394.1 L589.9,1394.1 L591.3,1394.1 L592.7,1394.1 L594.1,1394.1 L595.5,1394.1 L596.9,1394.1 L598.3,1394.1 L599.7,1394.0 L601.1,1394.0 L602.5,1394.0 L603.8,1394.0 L605.2,1394.0 L606.6,1394.0 L608.0,1394.0 L609.4,1394.0 L610.8,1394.0 L612.2,1394.0 L613.6,1393.9 L615.0,1393.9 L616.4,1393.9 L617.7,1393.9 L619.1,1393.9 L620.5,1393.9 L621.9,1393.9 L623.3,1393.9 L624.7,1393.8 L626.1,1393.8 L627.5,1393.8 L628.9,1393.8 L630.3,1393.8 L631.6,1393.8 L633.0,1393.7 L634.4,1393.7 L635.8,1393.7 L637.2,1393.7 L638.6,1393.7 L640.0,1393.7 L641.4,1393.6 L642.8,1393.6 L644.2,1393.6 L645.6,1393.6 L646.9,1393.6 L648.3,1393.6 L649.7,1393.5 L651.1,1393.5 L652.5,1393.5 L653.9,1393.5 L655.3,1393.5 L656.7,1393.4 L658.1,1393.4 L659.5,1393.4 L660.9,1393.4 L662.2,1393.3 L663.6,1393.3 L665.0,1393.3 L666.4,1393.3 L667.8,1393.2 L669.2,1393.2 L670.6,1393.2 L672.0,1393.2 L673.4,1393.1 L674.8,1393.1 L676.2,1393.1 L677.5,1393.1 L678.9,1393.0 L680.3,1393.0 L681.7,1393.0 L683.1,1393.0 L684.5,1392.9 L685.9,1392.9 L687.3,1392.9 L688.7,1392.8 L690.1,1392.8 L691.5,1392.8 L692.9,1392.7 L694.2,1392.7 L695.6,1392.7 L697.0,1392.6 L698.4,1392.6 L699.8,1392.6 L701.2,1392.5 L702.6,1392.5 L704.0,1392.5 L705.4,1392.4 L706.8,1392.4 L708.2,1392.4 L709.6,1392.3 L711.0,1392.3 L712.3,1392.3 L713.7,1392.2 L715.1,1392.2 L716.5,1392.1 L717.9,1392.1 L719.3,1392.1 L720.7,1392.0 L722.1,1392.0 L723.5,1391.9 L724.9,1391.9 L726.3,1391.9 L727.7,1391.8 L729.1,1391.8 L730.5,1391.7 L731.8,1391.7 L733.2,1391.6 L734.6,1391.6 L736.0,1391.5 L737.4,1391.5 L738.8,1391.5 L740.2,1391.4 L741.6,1391.4 L743.0,1391.3 L744.4,1391.3 L745.8,1391.2 L747.2,1391.2 L748.6,1391.1 L750.0,1391.1 L751.3,1391.0 L752.7,1390.9 L754.1,1390.9 L755.5,1390.8 L756.9,1390.8 L758.3,1390.7 L759.7,1390.7 L761.1,1390.6 L762.5,1390.6 L763.9,1390.5 L765.3,1390.4 L766.7,1390.4 L768.1,1390.3 L769.5,1390.3 L770.9,1390.2 L772.2,1390.1 L773.6,1390.1 L775.0,1390.0 L776.4,1389.9 L777.8,1389.9 L779.2,1389.8 L780.6,1389.7 L782.0,1389.7 L783.4,1389.6 L784.8,1389.5 L786.2,1389.4 L787.6,1389.4 L789.0,1389.3 L790.3,1389.2 L791.7,1389.1 L793.1,1389.0 L794.5,1389.0 L795.9,1388.9 L797.3,1388.8 L798.7,1388.7 L800.1,1388.6 L801.5,1388.6 L802.9,1388.5 L804.3,1388.4 L805.6,1388.3 L807.0,1388.2 L808.4,1388.1 L809.8,1388.0 L811.2,1387.9 L812.6,1387.8 L814.0,1387.7 L815.4,1387.6 L816.8,1387.5 L818.2,1387.4 L819.5,1387.3 L820.9,1387.2 L822.3,1387.1 L823.7,1387.0 L825.1,1386.9 L826.5,1386.8 L827.9,1386.7 L829.3,1386.6 L830.7,1386.5 L832.0,1386.4 L833.4,1386.2 L834.8,1386.1 L836.2,1386.0 L837.6,1385.9 L839.0,1385.8 L840.4,1385.7 L841.7,1385.5 L843.1,1385.4 L844.5,1385.3 L845.9,1385.1 L847.3,1385.0 L848.7,1384.9 L850.1,1384.8 L851.4,1384.6 L852.8,1384.5 L854.2,1384.3 L855.6,1384.2 L857.0,1384.1 L858.4,1383.9 L859.8,1383.8 L861.1,1383.6 L862.5,1383.5 L863.9,1383.3 L865.3,1383.2 L866.7,1383.0 L868.0,1382.9 L869.4,1382.7 L870.8,1382.6 L872.2,1382.4 L873.6,1382.2 L875.0,1382.1 L876.3,1381.9 L877.7,1381.7 L879.1,1381.6 L880.5,1381.4 L881.8,1381.2 L883.2,1381.1 L884.6,1380.9 L886.0,1380.7 L887.4,1380.5 L888.7,1380.3 L890.1,1380.2 L891.5,1380.0 L892.9,1379.8 L894.2,1379.6 L895.6,1379.4 L897.0,1379.2 L898.4,1379.0 L899.7,1378.8 L901.1,1378.6 L902.5,1378.4 L903.9,1378.2 L905.2,1378.0 L906.6,1377.8 L908.0,1377.6 L909.4,1377.4 L910.7,1377.1 L912.1,1376.9 L913.5,1376.7 L914.8,1376.5 L916.2,1376.3 L917.6,1376.0 L919.0,1375.8 L920.3,1375.6 L921.7,1375.3 L923.1,1375.1 L924.4,1374.9 L925.8,1374.6 L927.2,1374.4 L928.5,1374.1 L929.9,1373.9 L931.3,1373.6 L932.6,1373.4 L934.0,1373.1 L935.4,1372.9 L936.7,1372.6 L938.1,1372.4 L939.5,1372.1 L940.8,1371.8 L942.2,1371.6 L943.5,1371.3 L944.9,1371.0 L946.3,1370.8 L947.6,1370.5 L949.0,1370.2 L950.4,1369.9 L951.7,1369.6 L953.1,1369.3 L954.4,1369.0 L955.8,1368.8 L957.1,1368.5 L958.5,1368.2 L959.9,1367.9 L961.2,1367.6 L962.6,1367.3 L963.9,1366.9 L965.3,1366.6 L966.6,1366.3 L968.0,1366.0 L969.3,1365.7 L970.7,1365.4 L972.0,1365.0 L973.4,1364.7 L974.8,1364.4 L976.1,1364.0 L977.5,1363.7 L978.8,1363.4 L980.2,1363.0 L981.5,1362.7 L982.9,1362.4 L984.2,1362.0 L985.5,1361.7 L986.9,1361.3 L988.2,1360.9 L989.6,1360.6 L990.9,1360.2 L992.3,1359.9 L993.6,1359.5 L995.0,1359.1 L996.3,1358.8 L997.6,1358.4 L999.0,1358.0 L1000.3,1357.6 L1001.7,1357.3 L1003.0,1356.9 L1004.4,1356.5 L1005.7,1356.1 L1007.0,1355.7 L1008.4,1355.3 L1009.7,1354.9 L1011.0,1354.5 L1012.4,1354.2 L1013.7,1353.8 L1015.0,1353.4 L1016.4,1352.9 L1017.7,1352.5 L1019.0,1352.1 L1020.4,1351.7 L1021.7,1351.3 L1023.0,1350.9 L1024.4,1350.5 L1025.7,1350.1 L1027.0,1349.6 L1028.4,1349.2 L1029.7,1348.8 L1031.0,1348.4 L1032.3,1347.9 L1033.7,1347.5 L1035.0,1347.1 L1036.3,1346.6 L1037.6,1346.2 L1039.0,1345.7 L1040.3,1345.3 L1041.6,1344.8 L1042.9,1344.4 L1044.2,1343.9 L1045.6,1343.5 L1046.9,1343.0 L1048.2,1342.6 L1049.5,1342.1 L1050.8,1341.7 L1052.1,1341.2 L1053.5,1340.7 L1054.8,1340.3 L1056.1,1339.8 L1057.4,1339.3 L1058.7,1338.9 L1060.0,1338.4 L1061.3,1337.9 L1062.6,1337.4 L1064.0,1337.0 L1065.3,1336.5 L1066.6,1336.0 L1067.9,1335.5 L1069.2,1335.0 L1070.5,1334.5 L1071.8,1334.0 L1073.1,1333.5 L1074.4,1333.1 L1075.7,1332.6 L1077.0,1332.1 L1078.3,1331.6 L1079.6,1331.1 L1080.9,1330.6 L1082.2,1330.0 L1083.5,1329.5 L1084.8,1329.0 L1086.1,1328.5 L1087.4,1328.0 L1088.7,1327.5 L1090.0,1327.0 L1091.3,1326.5 L1092.6,1325.9 L1093.9,1325.4 L1095.1,1324.9 L1096.4,1324.4 L1097.7,1323.8 L1099.0,1323.3 L1100.3,1322.8 L1101.6,1322.2 L1102.9,1321.7 L1104.2,1321.2 L1105.4,1320.6 L1106.7,1320.1 L1108.0,1319.6 L1109.3,1319.0 L1110.6,1318.5 L1111.8,1317.9 L1113.1,1317.4 L1114.4,1316.8 L1115.7,1316.3 L1117.0,1315.7 L1118.2,1315.2 L1119.5,1314.6 L1120.8,1314.1 L1122.1,1313.5 L1123.3,1312.9 L1124.6,1312.4 L1125.9,1311.8 L1127.1,1311.2 L1128.4,1310.7 L1129.7,1310.1 L1130.9,1309.5 L1132.2,1309.0 L1133.5,1308.4 L1134.7,1307.8 L1136.0,1307.2 L1137.3,1306.6 L1138.5,1306.1 L1139.8,1305.5 L1141.0,1304.9 L1142.3,1304.3 L1143.6,1303.7 L1144.8,1303.1 L1146.1,1302.5 L1147.3,1301.9 L1148.6,1301.3 L1149.9,1300.8 L1151.1,1300.2 L1152.4,1299.6 L1153.6,1299.0 L1154.9,1298.4 L1156.1,1297.8 L1157.4,1297.2 L1158.6,1296.6 L1159.9,1296.0 L1161.1,1295.4 L1162.4,1294.7 L1163.6,1294.1 L1164.9,1293.5 L1166.1,1292.9 L1167.4,1292.3 L1168.6,1291.7 L1169.9,1291.1 L1171.1,1290.5 L1172.4,1289.9 L1173.6,1289.3 L1174.9,1288.7 L1176.2,1288.1 L1177.4,1287.5 L1178.7,1286.9 L1179.9,1286.3 L1181.2,1285.7 L1182.4,1285.1 L1183.7,1284.5 L1184.9,1283.9 L1186.2,1283.3 L1187.4,1282.7 L1188.7,1282.1 L1189.9,1281.5 L1191.2,1280.9 L1192.4,1280.3 L1193.7,1279.7 L1194.9,1279.1 L1196.2,1278.5 L1197.5,1277.9 L1198.7,1277.3 L1200.0,1276.7 L1201.2,1276.1 L1202.5,1275.5 L1203.8,1274.9 L1205.0,1274.3 L1206.3,1273.8 L1207.5,1273.2 L1208.8,1272.6 L1210.1,1272.0 L1211.3,1271.4 L1212.6,1270.9 L1213.9,1270.3 L1215.1,1269.7 L1216.4,1269.1 L1217.7,1268.6 L1218.9,1268.0 L1220.2,1267.5 L1221.5,1266.9 L1222.8,1266.3 L1224.0,1265.8 L1225.3,1265.2 L1226.6,1264.7 L1227.9,1264.1 L1229.2,1263.6 L1230.4,1263.0 L1231.7,1262.5 L1233.0,1262.0 L1234.3,1261.4 L1235.6,1260.9 L1236.9,1260.4 L1238.2,1259.8 L1239.5,1259.3 L1240.8,1258.8 L1242.0,1258.3 L1243.3,1257.8 L1244.6,1257.3 L1245.9,1256.8 L1247.2,1256.3 L1248.6,1255.8 L1249.9,1255.3 L1251.2,1254.8 L1252.5,1254.3 L1253.8,1253.8 L1255.1,1253.3 L1256.4,1252.9 L1257.7,1252.4 L1259.1,1251.9 L1260.4,1251.5 L1261.7,1251.0 L1263.0,1250.5 L1264.3,1250.1 L1265.7,1249.6 L1267.0,1249.2 L1268.3,1248.8 L1269.7,1248.3 L1271.0,1247.9 L1272.3,1247.5 L1273.7,1247.0 L1275.0,1246.6 L1276.3,1246.2 L1277.7,1245.8 L1279.0,1245.4 L1280.4,1245.0 L1281.7,1244.6 L1283.1,1244.2 L1284.4,1243.8 L1285.8,1243.4 L1287.1,1243.0 L1288.5,1242.7 L1289.8,1242.3 L1291.2,1241.9 L1292.5,1241.6 L1293.9,1241.2 L1295.2,1240.9 L1296.6,1240.5 L1297.9,1240.2 L1299.3,1239.8 L1300.7,1239.5 L1302.0,1239.2 L1303.4,1238.8 L1304.7,1238.5 L1306.1,1238.2 L1307.5,1237.9 L1308.8,1237.6 L1310.2,1237.3 L1311.6,1237.0 L1312.9,1236.7 L1314.3,1236.4 L1315.7,1236.1 L1317.1,1235.9 L1318.4,1235.6 L1319.8,1235.3 L1321.2,1235.1 L1322.5,1234.8 L1323.9,1234.5 L1325.3,1234.3 L1326.7,1234.1 L1328.0,1233.8 L1329.4,1233.6 L1330.8,1233.4 L1332.2,1233.1 L1333.6,1232.9 L1334.9,1232.7 L1336.3,1232.5 L1337.7,1232.3 L1339.1,1232.1 L1340.4,1231.9 L1341.8,1231.7 L1343.2,1231.6 L1344.6,1231.4 L1346.0,1231.2 L1347.3,1231.1 L1348.7,1230.9 L1350.1,1230.8 L1351.5,1230.6 L1352.9,1230.5 L1354.3,1230.3 L1355.6,1230.2 L1357.0,1230.1 L1358.4,1230.0 L1359.8,1229.9 L1361.2,1229.8 L1362.5,1229.7 L1363.9,1229.6 L1365.3,1229.5 L1366.7,1229.4 L1368.1,1229.3 L1369.5,1229.2 L1370.8,1229.2 L1372.2,1229.1 L1373.6,1229.1 L1375.0,1229.0 L1376.4,1229.0 L1377.7,1228.9 L1379.1,1228.9 L1380.5,1228.9 L1381.9,1228.9 L1383.3,1228.9 L1384.6,1228.9 L1386.0,1228.9 L1387.4,1228.9 L1388.8,1228.9 L1390.1,1228.9 L1391.5,1228.9 L1392.9,1229.0 L1394.3,1229.0 L1395.6,1229.1 L1397.0,1229.1 L1398.4,1229.2 L1399.8,1229.2 L1401.1,1229.3 L1402.5,1229.4 L1403.9,1229.5 L1405.2,1229.6 L1406.6,1229.7 L1408.0,1229.8 L1409.4,1229.9 L1410.7,1230.0 L1412.1,1230.1 L1413.5,1230.2 L1414.8,1230.4 L1416.2,1230.5 L1417.5,1230.7 L1418.9,1230.8 L1420.3,1231.0 L1421.6,1231.1 L1423.0,1231.3 L1424.4,1231.5 L1425.7,1231.7 L1427.1,1231.8 L1428.4,1232.0 L1429.8,1232.2 L1431.2,1232.4 L1432.5,1232.6 L1433.9,1232.8 L1435.2,1233.1 L1436.6,1233.3 L1437.9,1233.5 L1439.3,1233.7 L1440.7,1234.0 L1442.0,1234.2 L1443.4,1234.5 L1444.7,1234.7 L1446.1,1235.0 L1447.4,1235.2 L1448.8,1235.5 L1450.1,1235.8 L1451.5,1236.1 L1452.8,1236.3 L1454.2,1236.6 L1455.5,1236.9 L1456.9,1237.2 L1458.2,1237.5 L1459.6,1237.8 L1460.9,1238.1 L1462.3,1238.4 L1463.6,1238.7 L1465.0,1239.1 L1466.3,1239.4 L1467.6,1239.7 L1469.0,1240.0 L1470.3,1240.4 L1471.7,1240.7 L1473.0,1241.1 L1474.4,1241.4 L1475.7,1241.7 L1477.0,1242.1 L1478.4,1242.5 L1479.7,1242.8 L1481.1,1243.2 L1482.4,1243.5 L1483.8,1243.9 L1485.1,1244.3 L1486.4,1244.7 L1487.8,1245.0 L1489.1,1245.4 L1490.5,1245.8 L1491.8,1246.2 L1493.1,1246.6 L1494.5,1247.0 L1495.8,1247.4 L1497.1,1247.8 L1498.5,1248.2 L1499.8,1248.6 L1501.1,1249.0 L1502.5,1249.4 L1503.8,1249.8 L1505.2,1250.2 L1506.5,1250.7 L1507.8,1251.1 L1509.2,1251.5 L1510.5,1251.9 L1511.8,1252.4 L1513.2,1252.8 L1514.5,1253.2 L1515.8,1253.7 L1517.2,1254.1 L1518.5,1254.5 L1519.8,1255.0 L1521.2,1255.4 L1522.5,1255.8 L1523.8,1256.3 L1525.2,1256.7 L1526.5,1257.2 L1527.8,1257.6 L1529.2,1258.1 L1530.5,1258.5 L1531.8,1259.0 L1533.1,1259.5 L1534.5,1259.9 L1535.8,1260.4 L1537.1,1260.8 L1538.5,1261.3 L1539.8,1261.8 L1541.1,1262.2 L1542.5,1262.7 L1543.8,1263.2 L1545.1,1263.6 L1546.4,1264.1 L1547.8,1264.6 L1549.1,1265.0 L1550.4,1265.5 L1551.8,1266.0 L1553.1,1266.4 L1554.4,1266.9 L1555.7,1267.4 L1557.1,1267.9 L1558.4,1268.3 L1559.7,1268.8 L1561.1,1269.3 L1562.4,1269.7 L1563.7,1270.2 L1565.0,1270.7 L1566.4,1271.2 L1567.7,1271.6 L1569.0,1272.1 L1570.4,1272.6 L1571.7,1273.1 L1573.0,1273.5 L1574.3,1274.0 L1575.7,1274.5 L1577.0,1275.0 L1578.3,1275.4 L1579.6,1275.9 L1581.0,1276.4 L1582.3,1276.9 L1583.6,1277.3 L1585.0,1277.8 L1586.3,1278.3 L1587.6,1278.7 L1588.9,1279.2 L1590.3,1279.7 L1591.6,1280.1 L1592.9,1280.6 L1594.3,1281.1 L1595.6,1281.5 L1596.9,1282.0 L1598.2,1282.5 L1599.6,1282.9 L1600.9,1283.4 L1602.2,1283.8 L1603.5,1284.3 L1604.9,1284.7 L1606.2,1285.2 L1607.5,1285.6 L1608.9,1286.1 L1610.2,1286.5 L1611.5,1287.0 L1612.9,1287.4 L1614.2,1287.9 L1615.5,1288.3 L1616.8,1288.8 L1618.2,1289.2 L1619.5,1289.6 L1620.8,1290.1 L1622.2,1290.5 L1623.5,1290.9 L1624.8,1291.4 L1626.2,1291.8 L1627.5,1292.2 L1628.8,1292.6 L1630.1,1293.0 L1631.5,1293.5 L1632.8,1293.9 L1634.1,1294.3 L1635.5,1294.7 L1636.8,1295.1 L1638.1,1295.5 L1639.5,1295.9 L1640.8,1296.3 L1642.1,1296.7 L1643.5,1297.1 L1644.8,1297.5 L1646.1,1297.9 L1647.5,1298.3 L1648.8,1298.7 L1650.1,1299.1 L1651.5,1299.5 L1652.8,1299.8 L1654.1,1300.2 L1655.5,1300.6 L1656.8,1301.0 L1658.2,1301.3 L1659.5,1301.7 L1660.8,1302.1 L1662.2,1302.4 L1663.5,1302.8 L1664.8,1303.2 L1666.2,1303.5 L1667.5,1303.9 L1668.9,1304.2 L1670.2,1304.6 L1671.5,1304.9 L1672.9,1305.3 L1674.2,1305.6 L1675.6,1306.0 L1676.9,1306.3 L1678.2,1306.7 L1679.6,1307.0 L1680.9,1307.3 L1682.3,1307.7 L1683.6,1308.0 L1685.0,1308.3 L1686.3,1308.6 L1687.6,1309.0 L1689.0,1309.3 L1690.3,1309.6 L1691.7,1309.9 L1693.0,1310.2 L1694.4,1310.5 L1695.7,1310.8 L1697.1,1311.1 L1698.4,1311.4 L1699.8,1311.7 L1701.1,1312.0 L1702.5,1312.3 L1703.8,1312.6 L1705.2,1312.9 L1706.5,1313.2 L1707.9,1313.5 L1709.2,1313.8 L1710.6,1314.0 L1711.9,1314.3 L1713.3,1314.6 L1714.6,1314.9 L1716.0,1315.1 L1717.3,1315.4 L1718.7,1315.7 L1720.0,1315.9 L1721.4,1316.2 L1722.7,1316.4 L1724.1,1316.7 L1725.5,1316.9 L1726.8,1317.2 L1728.2,1317.4 L1729.5,1317.7 L1730.9,1317.9 L1732.3,1318.2 L1733.6,1318.4 L1735.0,1318.6 L1736.3,1318.9 L1737.7,1319.1 L1739.1,1319.3 L1740.4,1319.5 L1741.8,1319.7 L1743.2,1320.0 L1744.5,1320.2 L1745.9,1320.4 L1747.3,1320.6 L1748.6,1320.8 L1750.0,1321.0 L1751.4,1321.2 L1752.7,1321.4 L1754.1,1321.6 L1755.5,1321.8 L1756.8,1322.0 L1758.2,1322.2 L1759.6,1322.4 L1761.0,1322.5 L1762.3,1322.7 L1763.7,1322.9 L1765.1,1323.1 L1766.5,1323.2 L1767.8,1323.4 L1769.2,1323.6 L1770.6,1323.7 L1772.0,1323.9 L1773.4,1324.0 L1774.7,1324.2 L1776.1,1324.3 L1777.5,1324.5 L1778.9,1324.6 L1780.3,1324.8 L1781.6,1324.9 L1783.0,1325.1 L1784.4,1325.2 L1785.8,1325.3 L1787.2,1325.5 L1788.6,1325.6 L1790.0,1325.7 L1791.4,1325.8 L1792.7,1325.9 L1794.1,1326.0 L1795.5,1326.2 L1796.9,1326.3 L1798.3,1326.4 L1799.7,1326.5 L1801.1,1326.6 L1802.5,1326.7 L1803.9,1326.8 L1805.3,1326.9 L1806.7,1326.9 L1808.1,1327.0 L1809.5,1327.1 L1810.9,1327.2 L1812.3,1327.3 L1813.7,1327.3 L1815.1,1327.4 L1816.5,1327.5 L1817.9,1327.5 L1819.3,1327.6 L1820.7,1327.7 L1822.1,1327.7 L1823.5,1327.8 L1824.9,1327.8 L1826.4,1327.9 L1827.8,1327.9 L1829.2,1327.9 L1830.6,1328.0 L1832.0,1328.0" fill="none" stroke="#00ffff" stroke-width="9" stroke-linejoin="round" shape-rendering="crispEdges" stroke-dasharray="31.5 6.2 16 6.3"/>
<path d="M203.0,1394.5 L204.4,1394.5 L205.7,1394.5 L207.1,1394.5 L208.5,1394.5 L209.9,1394.5 L211.2,1394.5 L212.6,1394.5 L214.0,1394.5 L215.4,1394.5 L216.7,1394.5 L218.1,1394.5 L219.5,1394.5 L220.9,1394.5 L222.2,1394.5 L223.6,1394.5 L225.0,1394.5 L226.4,1394.5 L227.7,1394.5 L229.1,1394.5 L230.5,1394.5 L231.9,1394.5 L233.2,1394.5 L234.6,1394.5 L236.0,1394.5 L237.4,1394.2 L238.7,1394.2 L240.1,1394.2 L241.5,1394.2 L242.9,1394.2 L244.2,1394.1 L245.6,1394.1 L247.0,1394.1 L248.4,1394.1 L249.7,1394.1 L251.1,1394.1 L252.5,1394.1 L253.9,1394.1 L255.3,1394.1 L256.6,1394.1 L258.0,1394.1 L259.4,1394.1 L260.8,1394.1 L262.1,1394.1 L263.5,1394.1 L264.9,1394.0 L266.3,1394.0 L267.7,1394.0 L269.0,1394.0 L270.4,1394.0 L271.8,1394.0 L273.2,1394.0 L274.5,1394.0 L275.9,1394.0 L277.3,1394.0 L278.7,1394.0 L280.1,1394.0 L281.4,1394.0 L282.8,1394.0 L284.2,1394.0 L285.6,1394.0 L287.0,1394.0 L288.3,1394.0 L289.7,1394.0 L291.1,1394.0 L292.5,1394.0 L293.8,1394.0 L295.2,1394.0 L296.6,1394.0 L298.0,1394.0 L299.4,1394.0 L300.7,1394.0 L302.1,1394.0 L303.5,1394.0 L304.9,1394.0 L306.3,1394.0 L307.6,1394.0 L309.0,1394.0 L310.4,1394.0 L311.8,1394.0 L313.2,1394.0 L314.5,1394.0 L315.9,1394.0 L317.3,1394.0 L318.7,1394.0 L320.1,1394.0 L321.5,1394.0 L322.8,1394.0 L324.2,1394.0 L325.6,1394.0 L327.0,1394.0 L328.4,1394.0 L329.7,1394.0 L331.1,1394.0 L332.5,1394.0 L333.9,1394.0 L335.3,1394.0 L336.6,1394.0 L338.0,1394.0 L339.4,1394.0 L340.8,1394.0 L342.2,1394.0 L343.6,1394.0 L344.9,1394.0 L346.3,1394.0 L347.7,1394.0 L349.1,1394.0 L350.5,1394.0 L351.8,1394.0 L353.2,1394.0 L354.6,1394.0 L356.0,1394.0 L357.4,1394.0 L358.8,1394.0 L360.1,1394.0 L361.5,1394.0 L362.9,1394.0 L364.3,1394.0 L365.7,1394.0 L367.1,1394.0 L368.4,1394.0 L369.8,1394.0 L371.2,1394.1 L372.6,1394.1 L374.0,1394.1 L375.4,1394.1 L376.7,1394.1 L378.1,1394.1 L379.5,1394.1 L380.9,1394.1 L382.3,1394.1 L383.7,1394.1 L385.0,1394.1 L386.4,1394.1 L387.8,1394.1 L389.2,1394.1 L390.6,1394.1 L392.0,1394.1 L393.3,1394.1 L394.7,1394.1 L396.1,1394.1 L397.5,1394.1 L398.9,1394.1 L400.3,1394.1 L401.6,1394.1 L403.0,1394.1 L404.4,1394.2 L405.8,1394.2 L407.2,1394.2 L408.6,1394.2 L409.9,1394.2 L411.3,1394.2 L412.7,1394.2 L414.1,1394.2 L415.5,1394.2 L416.9,1394.2 L418.3,1394.2 L419.6,1394.5 L421.0,1394.5 L422.4,1394.5 L423.8,1394.5 L425.2,1394.5 L426.6,1394.5 L427.9,1394.5 L429.3,1394.5 L430.7,1394.5 L432.1,1394.5 L433.5,1394.5 L434.9,1394.5 L436.3,1394.5 L437.6,1394.5 L439.0,1394.5 L440.4,1394.5 L441.8,1394.5 L443.2,1394.5 L444.6,1394.5 L446.0,1394.5 L447.3,1394.5 L448.7,1394.5 L450.1,1394.5 L451.5,1394.5 L452.9,1394.5 L454.3,1394.5 L455.6,1394.5 L457.0,1394.5 L458.4,1394.5 L459.8,1394.5 L461.2,1394.5 L462.6,1394.5 L464.0,1394.5 L465.3,1394.5 L466.7,1394.5 L468.1,1394.5 L469.5,1394.5 L470.9,1394.5 L472.3,1394.5 L473.7,1394.5 L475.0,1394.5 L476.4,1394.5 L477.8,1394.5 L479.2,1394.5 L480.6,1394.5 L482.0,1394.5 L483.4,1394.5 L484.7,1394.5 L486.1,1394.5 L487.5,1394.5 L488.9,1394.5 L490.3,1394.5 L491.7,1394.5 L493.1,1394.5 L494.4,1394.5 L495.8,1394.5 L497.2,1394.5 L498.6,1394.5 L500.0,1394.5 L501.4,1394.5 L502.8,1394.5 L504.1,1394.5 L505.5,1394.5 L506.9,1394.5 L508.3,1394.5 L509.7,1394.5 L511.1,1394.5 L512.5,1394.5 L513.8,1394.5 L515.2,1394.5 L516.6,1394.5 L518.0,1394.5 L519.4,1394.5 L520.8,1394.5 L522.1,1394.5 L523.5,1394.5 L524.9,1394.5 L526.3,1394.5 L527.7,1394.5 L529.1,1394.5 L530.5,1394.5 L531.8,1394.5 L533.2,1394.5 L534.6,1394.5 L536.0,1394.5 L537.4,1394.5 L538.8,1394.5 L540.2,1394.5 L541.5,1394.5 L542.9,1394.5 L544.3,1394.5 L545.7,1394.5 L547.1,1394.5 L548.5,1394.5 L549.9,1394.5 L551.2,1394.5 L552.6,1394.5 L554.0,1394.5 L555.4,1394.5 L556.8,1394.5 L558.2,1394.5 L559.6,1394.5 L560.9,1394.5 L562.3,1394.5 L563.7,1394.5 L565.1,1394.5 L566.5,1394.5 L567.9,1394.5 L569.3,1394.5 L570.6,1394.5 L572.0,1394.5 L573.4,1394.5 L574.8,1394.5 L576.2,1394.5 L577.6,1394.5 L578.9,1394.5 L580.3,1394.5 L581.7,1394.5 L583.1,1394.5 L584.5,1394.5 L585.9,1394.5 L587.3,1394.5 L588.6,1394.5 L590.0,1394.2 L591.4,1394.2 L592.8,1394.2 L594.2,1394.2 L595.6,1394.2 L596.9,1394.1 L598.3,1394.1 L599.7,1394.1 L601.1,1394.1 L602.5,1394.1 L603.9,1394.1 L605.3,1394.1 L606.6,1394.1 L608.0,1394.1 L609.4,1394.0 L610.8,1394.0 L612.2,1394.0 L613.6,1394.0 L614.9,1394.0 L616.3,1394.0 L617.7,1394.0 L619.1,1394.0 L620.5,1393.9 L621.9,1393.9 L623.2,1393.9 L624.6,1393.9 L626.0,1393.9 L627.4,1393.9 L628.8,1393.9 L630.2,1393.8 L631.5,1393.8 L632.9,1393.8 L634.3,1393.8 L635.7,1393.8 L637.1,1393.8 L638.5,1393.7 L639.8,1393.7 L641.2,1393.7 L642.6,1393.7 L644.0,1393.7 L645.4,1393.6 L646.8,1393.6 L648.1,1393.6 L649.5,1393.6 L650.9,1393.6 L652.3,1393.5 L653.7,1393.5 L655.1,1393.5 L656.4,1393.5 L657.8,1393.5 L659.2,1393.4 L660.6,1393.4 L662.0,1393.4 L663.4,1393.4 L664.7,1393.4 L666.1,1393.3 L667.5,1393.3 L668.9,1393.3 L670.3,1393.3 L671.6,1393.2 L673.0,1393.2 L674.4,1393.2 L675.8,1393.2 L677.2,1393.1 L678.6,1393.1 L679.9,1393.1 L681.3,1393.1 L682.7,1393.0 L684.1,1393.0 L685.5,1393.0 L686.8,1392.9 L688.2,1392.9 L689.6,1392.9 L691.0,1392.9 L692.4,1392.8 L693.7,1392.8 L695.1,1392.8 L696.5,1392.7 L697.9,1392.7 L699.3,1392.7 L700.6,1392.6 L702.0,1392.6 L703.4,1392.6 L704.8,1392.5 L706.2,1392.5 L707.6,1392.5 L708.9,1392.4 L710.3,1392.4 L711.7,1392.4 L713.1,1392.3 L714.5,1392.3 L715.8,1392.3 L717.2,1392.2 L718.6,1392.2 L720.0,1392.2 L721.4,1392.1 L722.7,1392.1 L724.1,1392.0 L725.5,1392.0 L726.9,1392.0 L728.2,1391.9 L729.6,1391.9 L731.0,1391.8 L732.4,1391.8 L733.8,1391.8 L735.1,1391.7 L736.5,1391.7 L737.9,1391.6 L739.3,1391.6 L740.7,1391.5 L742.0,1391.5 L743.4,1391.4 L744.8,1391.4 L746.2,1391.3 L747.6,1391.3 L748.9,1391.2 L750.3,1391.2 L751.7,1391.1 L753.1,1391.1 L754.4,1391.0 L755.8,1391.0 L757.2,1390.9 L758.6,1390.9 L760.0,1390.8 L761.3,1390.8 L762.7,1390.7 L764.1,1390.7 L765.5,1390.6 L766.8,1390.5 L768.2,1390.5 L769.6,1390.4 L771.0,1390.3 L772.4,1390.3 L773.7,1390.2 L775.1,1390.2 L776.5,1390.1 L777.9,1390.0 L779.2,1390.0 L780.6,1389.9 L782.0,1389.8 L783.4,1389.7 L784.8,1389.7 L786.1,1389.6 L787.5,1389.5 L788.9,1389.5 L790.3,1389.4 L791.6,1389.3 L793.0,1389.2 L794.4,1389.1 L795.8,1389.1 L797.1,1389.0 L798.5,1388.9 L799.9,1388.8 L801.3,1388.7 L802.7,1388.7 L804.0,1388.6 L805.4,1388.5 L806.8,1388.4 L808.2,1388.3 L809.5,1388.2 L810.9,1388.1 L812.3,1388.0 L813.7,1387.9 L815.0,1387.8 L816.4,1387.8 L817.8,1387.7 L819.2,1387.6 L820.5,1387.5 L821.9,1387.4 L823.3,1387.3 L824.7,1387.2 L826.1,1387.0 L827.4,1386.9 L828.8,1386.8 L830.2,1386.7 L831.6,1386.6 L832.9,1386.5 L834.3,1386.4 L835.7,1386.3 L837.1,1386.2 L838.4,1386.1 L839.8,1385.9 L841.2,1385.8 L842.6,1385.7 L843.9,1385.6 L845.3,1385.5 L846.7,1385.3 L848.1,1385.2 L849.4,1385.1 L850.8,1385.0 L852.2,1384.8 L853.6,1384.7 L854.9,1384.6 L856.3,1384.4 L857.7,1384.3 L859.1,1384.2 L860.5,1384.0 L861.8,1383.9 L863.2,1383.7 L864.6,1383.6 L866.0,1383.4 L867.3,1383.3 L868.7,1383.2 L870.1,1383.0 L871.5,1382.9 L872.8,1382.7 L874.2,1382.6 L875.6,1382.4 L877.0,1382.2 L878.3,1382.1 L879.7,1381.9 L881.1,1381.8 L882.5,1381.6 L883.8,1381.4 L885.2,1381.3 L886.6,1381.1 L888.0,1380.9 L889.3,1380.8 L890.7,1380.6 L892.1,1380.4 L893.5,1380.2 L894.8,1380.1 L896.2,1379.9 L897.6,1379.7 L899.0,1379.5 L900.3,1379.3 L901.7,1379.1 L903.1,1379.0 L904.5,1378.8 L905.8,1378.6 L907.2,1378.4 L908.6,1378.2 L910.0,1378.0 L911.3,1377.8 L912.7,1377.6 L914.1,1377.4 L915.5,1377.2 L916.8,1377.0 L918.2,1376.8 L919.6,1376.6 L920.9,1376.4 L922.3,1376.1 L923.7,1375.9 L925.1,1375.7 L926.4,1375.5 L927.8,1375.3 L929.2,1375.1 L930.5,1374.8 L931.9,1374.6 L933.3,1374.4 L934.7,1374.1 L936.0,1373.9 L937.4,1373.7 L938.8,1373.5 L940.1,1373.2 L941.5,1373.0 L942.9,1372.7 L944.2,1372.5 L945.6,1372.3 L947.0,1372.0 L948.3,1371.8 L949.7,1371.5 L951.1,1371.3 L952.4,1371.0 L953.8,1370.8 L955.1,1370.5 L956.5,1370.2 L957.9,1370.0 L959.2,1369.7 L960.6,1369.4 L962.0,1369.2 L963.3,1368.9 L964.7,1368.6 L966.0,1368.4 L967.4,1368.1 L968.8,1367.8 L970.1,1367.5 L971.5,1367.3 L972.8,1367.0 L974.2,1366.7 L975.5,1366.4 L976.9,1366.1 L978.3,1365.8 L979.6,1365.5 L981.0,1365.2 L982.3,1364.9 L983.7,1364.7 L985.0,1364.4 L986.4,1364.0 L987.7,1363.7 L989.1,1363.4 L990.4,1363.1 L991.8,1362.8 L993.1,1362.5 L994.5,1362.2 L995.8,1361.9 L997.2,1361.6 L998.5,1361.2 L999.9,1360.9 L1001.2,1360.6 L1002.5,1360.3 L1003.9,1359.9 L1005.2,1359.6 L1006.6,1359.3 L1007.9,1358.9 L1009.3,1358.6 L1010.6,1358.3 L1011.9,1357.9 L1013.3,1357.6 L1014.6,1357.2 L1015.9,1356.9 L1017.3,1356.5 L1018.6,1356.2 L1020.0,1355.8 L1021.3,1355.5 L1022.6,1355.1 L1023.9,1354.7 L1025.3,1354.4 L1026.6,1354.0 L1027.9,1353.6 L1029.3,1353.3 L1030.6,1352.9 L1031.9,1352.5 L1033.3,1352.1 L1034.6,1351.8 L1035.9,1351.4 L1037.2,1351.0 L1038.5,1350.6 L1039.9,1350.2 L1041.2,1349.8 L1042.5,1349.4 L1043.8,1349.0 L1045.1,1348.6 L1046.5,1348.2 L1047.8,1347.8 L1049.1,1347.4 L1050.4,1347.0 L1051.7,1346.6 L1053.0,1346.2 L1054.3,1345.8 L1055.7,1345.4 L1057.0,1345.0 L1058.3,1344.5 L1059.6,1344.1 L1060.9,1343.7 L1062.2,1343.3 L1063.5,1342.8 L1064.8,1342.4 L1066.1,1342.0 L1067.4,1341.5 L1068.7,1341.1 L1070.0,1340.7 L1071.3,1340.2 L1072.6,1339.8 L1073.9,1339.3 L1075.2,1338.9 L1076.5,1338.4 L1077.8,1338.0 L1079.1,1337.5 L1080.4,1337.1 L1081.7,1336.6 L1083.0,1336.2 L1084.3,1335.7 L1085.6,1335.3 L1086.9,1334.8 L1088.2,1334.3 L1089.5,1333.9 L1090.7,1333.4 L1092.0,1332.9 L1093.3,1332.5 L1094.6,1332.0 L1095.9,1331.5 L1097.2,1331.1 L1098.5,1330.6 L1099.8,1330.1 L1101.1,1329.6 L1102.4,1329.2 L1103.6,1328.7 L1104.9,1328.2 L1106.2,1327.7 L1107.5,1327.3 L1108.8,1326.8 L1110.1,1326.3 L1111.4,1325.8 L1112.7,1325.3 L1114.0,1324.9 L1115.2,1324.4 L1116.5,1323.9 L1117.8,1323.4 L1119.1,1322.9 L1120.4,1322.4 L1121.7,1321.9 L1123.0,1321.5 L1124.3,1321.0 L1125.6,1320.5 L1126.8,1320.0 L1128.1,1319.5 L1129.4,1319.0 L1130.7,1318.5 L1132.0,1318.0 L1133.3,1317.5 L1134.6,1317.1 L1135.9,1316.6 L1137.2,1316.1 L1138.5,1315.6 L1139.7,1315.1 L1141.0,1314.6 L1142.3,1314.1 L1143.6,1313.6 L1144.9,1313.1 L1146.2,1312.6 L1147.5,1312.2 L1148.8,1311.7 L1150.1,1311.2 L1151.4,1310.7 L1152.7,1310.2 L1154.0,1309.7 L1155.3,1309.2 L1156.6,1308.7 L1157.9,1308.3 L1159.2,1307.8 L1160.5,1307.3 L1161.8,1306.8 L1163.1,1306.3 L1164.4,1305.8 L1165.7,1305.3 L1167.0,1304.9 L1168.3,1304.4 L1169.6,1303.9 L1170.9,1303.4 L1172.2,1302.9 L1173.5,1302.5 L1174.8,1302.0 L1176.1,1301.5 L1177.5,1301.0 L1178.8,1300.6 L1180.1,1300.1 L1181.4,1299.6 L1182.7,1299.2 L1184.0,1298.7 L1185.3,1298.2 L1186.7,1297.8 L1188.0,1297.3 L1189.3,1296.8 L1190.6,1296.4 L1191.9,1295.9 L1193.2,1295.4 L1194.6,1295.0 L1195.9,1294.5 L1197.2,1294.1 L1198.5,1293.6 L1199.9,1293.2 L1201.2,1292.7 L1202.5,1292.3 L1203.8,1291.8 L1205.2,1291.4 L1206.5,1291.0 L1207.8,1290.5 L1209.1,1290.1 L1210.5,1289.7 L1211.8,1289.2 L1213.1,1288.8 L1214.5,1288.4 L1215.8,1287.9 L1217.1,1287.5 L1218.5,1287.1 L1219.8,1286.7 L1221.1,1286.3 L1222.5,1285.9 L1223.8,1285.4 L1225.1,1285.0 L1226.5,1284.6 L1227.8,1284.2 L1229.1,1283.8 L1230.5,1283.4 L1231.8,1283.0 L1233.1,1282.7 L1234.5,1282.3 L1235.8,1281.9 L1237.2,1281.5 L1238.5,1281.1 L1239.8,1280.8 L1241.2,1280.4 L1242.5,1280.0 L1243.9,1279.7 L1245.2,1279.3 L1246.6,1278.9 L1247.9,1278.6 L1249.2,1278.2 L1250.6,1277.9 L1251.9,1277.5 L1253.3,1277.2 L1254.6,1276.9 L1256.0,1276.5 L1257.3,1276.2 L1258.7,1275.9 L1260.0,1275.6 L1261.4,1275.2 L1262.7,1274.9 L1264.1,1274.6 L1265.4,1274.3 L1266.8,1274.0 L1268.1,1273.7 L1269.5,1273.4 L1270.8,1273.1 L1272.2,1272.8 L1273.5,1272.6 L1274.9,1272.3 L1276.2,1272.0 L1277.6,1271.7 L1278.9,1271.5 L1280.3,1271.2 L1281.6,1271.0 L1283.0,1270.7 L1284.4,1270.5 L1285.7,1270.2 L1287.1,1270.0 L1288.4,1269.8 L1289.8,1269.5 L1291.1,1269.3 L1292.5,1269.1 L1293.8,1268.9 L1295.2,1268.7 L1296.6,1268.5 L1297.9,1268.3 L1299.3,1268.1 L1300.6,1267.9 L1302.0,1267.7 L1303.3,1267.6 L1304.7,1267.4 L1306.1,1267.2 L1307.4,1267.1 L1308.8,1266.9 L1310.1,1266.8 L1311.5,1266.6 L1312.9,1266.5 L1314.2,1266.3 L1315.6,1266.2 L1316.9,1266.1 L1318.3,1266.0 L1319.7,1265.9 L1321.0,1265.8 L1322.4,1265.7 L1323.7,1265.6 L1325.1,1265.5 L1326.5,1265.4 L1327.8,1265.3 L1329.2,1265.3 L1330.6,1265.2 L1331.9,1265.2 L1333.3,1265.1 L1334.6,1265.1 L1336.0,1265.0 L1337.4,1265.0 L1338.7,1265.0 L1340.1,1265.0 L1341.5,1265.0 L1342.8,1265.0 L1344.2,1265.0 L1345.5,1265.0 L1346.9,1265.0 L1348.3,1265.0 L1349.6,1265.0 L1351.0,1265.1 L1352.4,1265.1 L1353.7,1265.1 L1355.1,1265.2 L1356.4,1265.3 L1357.8,1265.3 L1359.2,1265.4 L1360.5,1265.5 L1361.9,1265.5 L1363.3,1265.6 L1364.6,1265.7 L1366.0,1265.8 L1367.3,1265.9 L1368.7,1266.0 L1370.1,1266.1 L1371.4,1266.3 L1372.8,1266.4 L1374.2,1266.5 L1375.5,1266.7 L1376.9,1266.8 L1378.2,1266.9 L1379.6,1267.1 L1381.0,1267.3 L1382.3,1267.4 L1383.7,1267.6 L1385.1,1267.8 L1386.4,1267.9 L1387.8,1268.1 L1389.1,1268.3 L1390.5,1268.5 L1391.9,1268.7 L1393.2,1268.9 L1394.6,1269.1 L1395.9,1269.3 L1397.3,1269.5 L1398.7,1269.7 L1400.0,1269.9 L1401.4,1270.2 L1402.8,1270.4 L1404.1,1270.6 L1405.5,1270.9 L1406.8,1271.1 L1408.2,1271.4 L1409.6,1271.6 L1410.9,1271.9 L1412.3,1272.1 L1413.6,1272.4 L1415.0,1272.7 L1416.3,1272.9 L1417.7,1273.2 L1419.1,1273.5 L1420.4,1273.8 L1421.8,1274.0 L1423.1,1274.3 L1424.5,1274.6 L1425.9,1274.9 L1427.2,1275.2 L1428.6,1275.5 L1429.9,1275.8 L1431.3,1276.1 L1432.6,1276.4 L1434.0,1276.8 L1435.3,1277.1 L1436.7,1277.4 L1438.1,1277.7 L1439.4,1278.0 L1440.8,1278.4 L1442.1,1278.7 L1443.5,1279.0 L1444.8,1279.4 L1446.2,1279.7 L1447.5,1280.1 L1448.9,1280.4 L1450.2,1280.8 L1451.6,1281.1 L1452.9,1281.5 L1454.3,1281.8 L1455.6,1282.2 L1457.0,1282.5 L1458.3,1282.9 L1459.7,1283.3 L1461.0,1283.6 L1462.4,1284.0 L1463.7,1284.4 L1465.1,1284.7 L1466.4,1285.1 L1467.8,1285.5 L1469.1,1285.9 L1470.5,1286.2 L1471.8,1286.6 L1473.2,1287.0 L1474.5,1287.4 L1475.9,1287.8 L1477.2,1288.2 L1478.6,1288.6 L1479.9,1288.9 L1481.3,1289.3 L1482.6,1289.7 L1483.9,1290.1 L1485.3,1290.5 L1486.6,1290.9 L1488.0,1291.3 L1489.3,1291.7 L1490.7,1292.1 L1492.0,1292.5 L1493.3,1292.9 L1494.7,1293.3 L1496.0,1293.7 L1497.4,1294.1 L1498.7,1294.5 L1500.0,1294.9 L1501.4,1295.4 L1502.7,1295.8 L1504.0,1296.2 L1505.4,1296.6 L1506.7,1297.0 L1508.0,1297.4 L1509.4,1297.8 L1510.7,1298.2 L1512.1,1298.6 L1513.4,1299.0 L1514.7,1299.5 L1516.0,1299.9 L1517.4,1300.3 L1518.7,1300.7 L1520.0,1301.1 L1521.4,1301.5 L1522.7,1301.9 L1524.0,1302.3 L1525.4,1302.7 L1526.7,1303.1 L1528.0,1303.6 L1529.3,1304.0 L1530.7,1304.4 L1532.0,1304.8 L1533.3,1305.2 L1534.6,1305.6 L1536.0,1306.0 L1537.3,1306.4 L1538.6,1306.8 L1539.9,1307.2 L1541.3,1307.7 L1542.6,1308.1 L1543.9,1308.5 L1545.2,1308.9 L1546.6,1309.3 L1547.9,1309.7 L1549.2,1310.1 L1550.5,1310.5 L1551.9,1310.9 L1553.2,1311.3 L1554.5,1311.7 L1555.8,1312.1 L1557.1,1312.5 L1558.5,1312.9 L1559.8,1313.3 L1561.1,1313.7 L1562.4,1314.1 L1563.7,1314.5 L1565.1,1314.9 L1566.4,1315.3 L1567.7,1315.7 L1569.0,1316.1 L1570.3,1316.5 L1571.7,1316.9 L1573.0,1317.3 L1574.3,1317.7 L1575.6,1318.1 L1576.9,1318.5 L1578.3,1318.9 L1579.6,1319.3 L1580.9,1319.7 L1582.2,1320.0 L1583.5,1320.4 L1584.8,1320.8 L1586.2,1321.2 L1587.5,1321.6 L1588.8,1322.0 L1590.1,1322.4 L1591.4,1322.7 L1592.8,1323.1 L1594.1,1323.5 L1595.4,1323.9 L1596.7,1324.2 L1598.0,1324.6 L1599.4,1325.0 L1600.7,1325.4 L1602.0,1325.7 L1603.3,1326.1 L1604.6,1326.5 L1606.0,1326.9 L1607.3,1327.2 L1608.6,1327.6 L1609.9,1328.0 L1611.3,1328.3 L1612.6,1328.7 L1613.9,1329.0 L1615.2,1329.4 L1616.6,1329.8 L1617.9,1330.1 L1619.2,1330.5 L1620.5,1330.8 L1621.9,1331.2 L1623.2,1331.5 L1624.5,1331.9 L1625.8,1332.2 L1627.2,1332.6 L1628.5,1332.9 L1629.8,1333.3 L1631.1,1333.6 L1632.5,1333.9 L1633.8,1334.3 L1635.1,1334.6 L1636.5,1334.9 L1637.8,1335.3 L1639.1,1335.6 L1640.4,1335.9 L1641.8,1336.3 L1643.1,1336.6 L1644.4,1336.9 L1645.8,1337.2 L1647.1,1337.6 L1648.4,1337.9 L1649.8,1338.2 L1651.1,1338.5 L1652.5,1338.8 L1653.8,1339.1 L1655.1,1339.4 L1656.5,1339.7 L1657.8,1340.0 L1659.1,1340.3 L1660.5,1340.6 L1661.8,1340.9 L1663.2,1341.2 L1664.5,1341.5 L1665.9,1341.8 L1667.2,1342.1 L1668.5,1342.4 L1669.9,1342.7 L1671.2,1343.0 L1672.6,1343.3 L1673.9,1343.5 L1675.3,1343.8 L1676.6,1344.1 L1678.0,1344.4 L1679.3,1344.6 L1680.7,1344.9 L1682.0,1345.2 L1683.4,1345.4 L1684.7,1345.7 L1686.1,1345.9 L1687.5,1346.2 L1688.8,1346.4 L1690.2,1346.7 L1691.5,1346.9 L1692.9,1347.2 L1694.3,1347.4 L1695.6,1347.7 L1697.0,1347.9 L1698.3,1348.1 L1699.7,1348.4 L1701.1,1348.6 L1702.4,1348.8 L1703.8,1349.1 L1705.2,1349.3 L1706.6,1349.5 L1707.9,1349.7 L1709.3,1349.9 L1710.7,1350.1 L1712.0,1350.4 L1713.4,1350.6 L1714.8,1350.8 L1716.2,1351.0 L1717.5,1351.2 L1718.9,1351.4 L1720.3,1351.6 L1721.7,1351.8 L1723.0,1352.0 L1724.4,1352.2 L1725.8,1352.3 L1727.2,1352.5 L1728.5,1352.7 L1729.9,1352.9 L1731.3,1353.1 L1732.7,1353.3 L1734.1,1353.4 L1735.4,1353.6 L1736.8,1353.8 L1738.2,1354.0 L1739.6,1354.1 L1741.0,1354.3 L1742.4,1354.5 L1743.7,1354.6 L1745.1,1354.8 L1746.5,1354.9 L1747.9,1355.1 L1749.3,1355.2 L1750.7,1355.4 L1752.0,1355.6 L1753.4,1355.7 L1754.8,1355.8 L1756.2,1356.0 L1757.6,1356.1 L1759.0,1356.3 L1760.3,1356.4 L1761.7,1356.6 L1763.1,1356.7 L1764.5,1356.8 L1765.9,1357.0 L1767.3,1357.1 L1768.7,1357.2 L1770.0,1357.3 L1771.4,1357.5 L1772.8,1357.6 L1774.2,1357.7 L1775.6,1357.8 L1777.0,1358.0 L1778.3,1358.1 L1779.7,1358.2 L1781.1,1358.3 L1782.5,1358.4 L1783.9,1358.5 L1785.3,1358.6 L1786.6,1358.7 L1788.0,1358.8 L1789.4,1358.9 L1790.8,1359.1 L1792.2,1359.2 L1793.5,1359.3 L1794.9,1359.4 L1796.3,1359.4 L1797.7,1359.5 L1799.1,1359.6 L1800.4,1359.7 L1801.8,1359.8 L1803.2,1359.9 L1804.6,1360.0 L1806.0,1360.1 L1807.3,1360.2 L1808.7,1360.3 L1810.1,1360.3 L1811.5,1360.4 L1812.8,1360.5 L1814.2,1360.6 L1815.6,1360.7 L1817.0,1360.7 L1818.3,1360.8 L1819.7,1360.9 L1821.1,1361.0 L1822.4,1361.0 L1823.8,1361.1 L1825.2,1361.2 L1826.5,1361.2 L1827.9,1361.3 L1829.3,1361.4 L1830.6,1361.4 L1832.0,1361.5" fill="none" stroke="#ffff00" stroke-width="9" stroke-linejoin="round" shape-rendering="crispEdges" stroke-dasharray="31 29"/>
<path d="M202,1394.5 L1832,1394.5" stroke="#ff00ff" stroke-width="9" fill="none"/>
<text transform="translate(202.50,1474.00) scale(1,1.045)" font-size="60" text-anchor="middle" fill="#262626" >0</text>
<text transform="translate(529.50,1474.00) scale(1,1.045)" font-size="60" text-anchor="middle" fill="#262626" >10</text>
<text transform="translate(854.00,1474.00) scale(1,1.045)" font-size="60" text-anchor="middle" fill="#262626" >20</text>
<text transform="translate(1178.50,1474.00) scale(1,1.045)" font-size="60" text-anchor="middle" fill="#262626" >30</text>
<text transform="translate(1505.50,1474.00) scale(1,1.045)" font-size="60" text-anchor="middle" fill="#262626" >40</text>
<text transform="translate(1830.40,1474.00) scale(1,1.045)" font-size="60" text-anchor="middle" fill="#262626" >50</text>
<text transform="translate(183.00,1417.00) scale(1,1.045)" font-size="60" text-anchor="end" fill="#262626" >0</text>
<text transform="translate(181.00,1288.65) scale(1,1.045)" font-size="60" text-anchor="end" fill="#262626" >0.5</text>
<text transform="translate(183.00,1160.30) scale(1,1.045)" font-size="60" text-anchor="end" fill="#262626" >1</text>
<text transform="translate(181.00,1031.95) scale(1,1.045)" font-size="60" text-anchor="end" fill="#262626" >1.5</text>
<text transform="translate(183.00,903.60) scale(1,1.045)" font-size="60" text-anchor="end" fill="#262626" >2</text>
<text transform="translate(181.00,775.25) scale(1,1.045)" font-size="60" text-anchor="end" fill="#262626" >2.5</text>
<text transform="translate(183.00,646.90) scale(1,1.045)" font-size="60" text-anchor="end" fill="#262626" >3</text>
<text transform="translate(181.00,518.55) scale(1,1.045)" font-size="60" text-anchor="end" fill="#262626" >3.5</text>
<text transform="translate(183.00,390.20) scale(1,1.045)" font-size="60" text-anchor="end" fill="#262626" >4</text>
<text transform="translate(181.00,261.85) scale(1,1.045)" font-size="60" text-anchor="end" fill="#262626" >4.5</text>
<text transform="translate(183.00,133.50) scale(1,1.045)" font-size="60" text-anchor="end" fill="#262626" >5</text>
<text x="206" y="105.8" font-size="68" fill="#262626">×</text>
<text transform="translate(252.00,98.00) scale(1,1.045)" font-size="60" text-anchor="start" fill="#262626" >10</text>
<text transform="translate(318.80,68.50) scale(1,1.045)" font-size="48" text-anchor="start" fill="#262626" >6</text>
<text transform="translate(1017.00,1554.00) scale(1,1.045)" font-size="66" text-anchor="middle" fill="#262626" >Days</text>
<text transform="translate(73,755.5) rotate(-90) scale(1,1.045)" font-size="66" text-anchor="middle" fill="#262626">Counts</text>
<rect x="691" y="141" width="1110" height="486" fill="#fff" stroke="#0f0f0f" stroke-width="2"/>
<path d="M705,181.5 H819" stroke="#ff0000" stroke-width="9" fill="none" />
<text transform="translate(829.70,200.00) scale(1,1.045)" font-size="54" text-anchor="start" fill="#000" >E: Epithelial Cells</text>
<path d="M705,249.1 H819" stroke="#0000ff" stroke-width="9" fill="none" />
<text transform="translate(829.70,267.67) scale(1,1.045)" font-size="54" text-anchor="start" fill="#000" >I: Infected Cells</text>
<path d="M705,316.7 H819" stroke="#000000" stroke-width="9" fill="none" />
<text transform="translate(829.70,335.34) scale(1,1.045)" font-size="54" text-anchor="start" fill="#000" >V: Free virus particles</text>
<path d="M705,384.2 H819" stroke="#00ff00" stroke-width="9" fill="none" stroke-dasharray="9 6"/>
<text transform="translate(829.70,403.01) scale(1,1.045)" font-size="54" text-anchor="start" fill="#000" >H: Activated T-helper T-lymphocytes</text>
<path d="M705,451.8 H819" stroke="#00ffff" stroke-width="9" fill="none" stroke-dasharray="31.1 6.8 16.1 6.1"/>
<text transform="translate(829.70,470.68) scale(1,1.045)" font-size="54" text-anchor="start" fill="#000" >C: Activated cytotoxic C-lymphocytes</text>
<path d="M705,519.4 H819" stroke="#ffff00" stroke-width="9" fill="none" stroke-dasharray="31 29"/>
<text transform="translate(829.70,538.35) scale(1,1.045)" font-size="54" text-anchor="start" fill="#000" >B: Activated B-lymphocytes</text>
<path d="M705,587.0 H819" stroke="#ff00ff" stroke-width="9" fill="none" />
<text transform="translate(829.70,606.02) scale(1,1.045)" font-size="54" text-anchor="start" fill="#000" >R: Activated Regulatory T Lymphocytes</text>
</svg></body></html>
